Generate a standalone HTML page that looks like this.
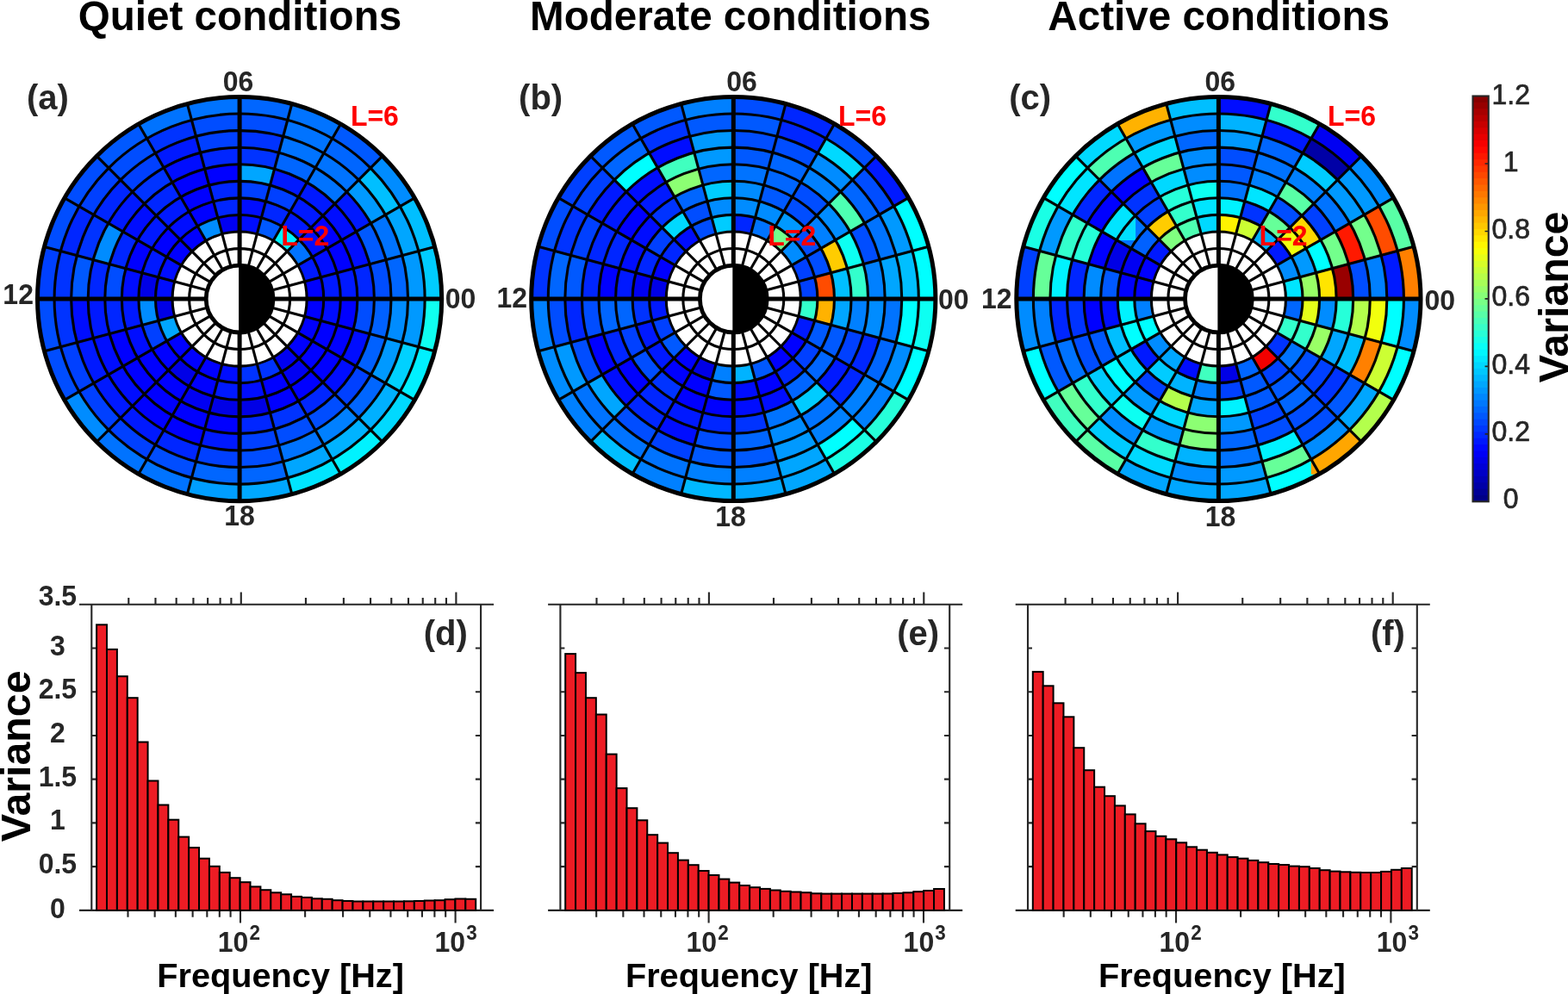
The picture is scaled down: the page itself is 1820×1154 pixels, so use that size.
<!DOCTYPE html>
<html lang="en">
<head>
<meta charset="utf-8">
<title>Variance of wave power: quiet, moderate and active conditions</title>
<style>html,body{margin:0;padding:0;background:#fff}body{width:1820px;height:1154px;overflow:hidden}svg{display:block;font-family:'Liberation Sans',Arial,Helvetica,sans-serif}</style>
</head>
<body>
<svg width="1820" height="1154" viewBox="0 0 1820 1154">
<rect width="1820" height="1154" fill="#fff"/>
<text x="278.5" y="34.8" font-size="47.6" font-weight="bold" fill="#000" text-anchor="middle">Quiet conditions</text>
<text x="847.75" y="34.8" font-size="47.6" font-weight="bold" fill="#000" text-anchor="middle">Moderate conditions</text>
<text x="1414.65" y="34.8" font-size="47.6" font-weight="bold" fill="#000" text-anchor="middle">Active conditions</text>
<!-- polar plot (a) -->
<g transform="translate(278.1 347.1)">
<circle r="234.6" fill="#fff"/>
<path d="M97.61 0A97.61 97.61 0 0 0 94.28 -25.26L75.38 -20.2A78.04 78.04 0 0 1 78.04 0Z" fill="#0000ff" stroke="#0000ff" stroke-width="0.6"/>
<path d="M94.28 -25.26A97.61 97.61 0 0 0 84.53 -48.8L67.58 -39.02A78.04 78.04 0 0 1 75.38 -20.2Z" fill="#0019ff" stroke="#0019ff" stroke-width="0.6"/>
<path d="M84.53 -48.8A97.61 97.61 0 0 0 69.02 -69.02L55.18 -55.18A78.04 78.04 0 0 1 67.58 -39.02Z" fill="#0073ff" stroke="#0073ff" stroke-width="0.6"/>
<path d="M69.02 -69.02A97.61 97.61 0 0 0 48.81 -84.53L39.02 -67.58A78.04 78.04 0 0 1 55.18 -55.18Z" fill="#00f2ff" stroke="#00f2ff" stroke-width="0.6"/>
<path d="M48.81 -84.53A97.61 97.61 0 0 0 25.26 -94.28L20.2 -75.38A78.04 78.04 0 0 1 39.02 -67.58Z" fill="#0059ff" stroke="#0059ff" stroke-width="0.6"/>
<path d="M25.26 -94.28A97.61 97.61 0 0 0 0 -97.61L0 -78.04A78.04 78.04 0 0 1 20.2 -75.38Z" fill="#000dff" stroke="#000dff" stroke-width="0.6"/>
<path d="M0 -97.61A97.61 97.61 0 0 0 -25.26 -94.28L-20.2 -75.38A78.04 78.04 0 0 1 0 -78.04Z" fill="#0000f2" stroke="#0000f2" stroke-width="0.6"/>
<path d="M-25.26 -94.28A97.61 97.61 0 0 0 -48.8 -84.53L-39.02 -67.58A78.04 78.04 0 0 1 -20.2 -75.38Z" fill="#008cff" stroke="#008cff" stroke-width="0.6"/>
<path d="M-48.8 -84.53A97.61 97.61 0 0 0 -69.02 -69.02L-55.18 -55.18A78.04 78.04 0 0 1 -39.02 -67.58Z" fill="#0000ff" stroke="#0000ff" stroke-width="0.6"/>
<path d="M-69.02 -69.02A97.61 97.61 0 0 0 -84.53 -48.8L-67.58 -39.02A78.04 78.04 0 0 1 -55.18 -55.18Z" fill="#0000ff" stroke="#0000ff" stroke-width="0.6"/>
<path d="M-84.53 -48.8A97.61 97.61 0 0 0 -94.28 -25.26L-75.38 -20.2A78.04 78.04 0 0 1 -67.58 -39.02Z" fill="#000dff" stroke="#000dff" stroke-width="0.6"/>
<path d="M-94.28 -25.26A97.61 97.61 0 0 0 -97.61 0L-78.04 0A78.04 78.04 0 0 1 -75.38 -20.2Z" fill="#000dff" stroke="#000dff" stroke-width="0.6"/>
<path d="M-97.61 0A97.61 97.61 0 0 0 -94.28 25.26L-75.38 20.2A78.04 78.04 0 0 1 -78.04 0Z" fill="#0000e6" stroke="#0000e6" stroke-width="0.6"/>
<path d="M-94.28 25.26A97.61 97.61 0 0 0 -84.53 48.81L-67.58 39.02A78.04 78.04 0 0 1 -75.38 20.2Z" fill="#00a6ff" stroke="#00a6ff" stroke-width="0.6"/>
<path d="M-84.53 48.81A97.61 97.61 0 0 0 -69.02 69.02L-55.18 55.18A78.04 78.04 0 0 1 -67.58 39.02Z" fill="#0000ff" stroke="#0000ff" stroke-width="0.6"/>
<path d="M-69.02 69.02A97.61 97.61 0 0 0 -48.81 84.53L-39.02 67.58A78.04 78.04 0 0 1 -55.18 55.18Z" fill="#0000ff" stroke="#0000ff" stroke-width="0.6"/>
<path d="M-48.81 84.53A97.61 97.61 0 0 0 -25.26 94.28L-20.2 75.38A78.04 78.04 0 0 1 -39.02 67.58Z" fill="#0000ff" stroke="#0000ff" stroke-width="0.6"/>
<path d="M-25.26 94.28A97.61 97.61 0 0 0 0 97.61L0 78.04A78.04 78.04 0 0 1 -20.2 75.38Z" fill="#000dff" stroke="#000dff" stroke-width="0.6"/>
<path d="M0 97.61A97.61 97.61 0 0 0 25.26 94.28L20.2 75.38A78.04 78.04 0 0 1 0 78.04Z" fill="#0033ff" stroke="#0033ff" stroke-width="0.6"/>
<path d="M25.26 94.28A97.61 97.61 0 0 0 48.81 84.53L39.02 67.58A78.04 78.04 0 0 1 20.2 75.38Z" fill="#0033ff" stroke="#0033ff" stroke-width="0.6"/>
<path d="M48.81 84.53A97.61 97.61 0 0 0 69.02 69.02L55.18 55.18A78.04 78.04 0 0 1 39.02 67.58Z" fill="#0000f2" stroke="#0000f2" stroke-width="0.6"/>
<path d="M69.02 69.02A97.61 97.61 0 0 0 84.53 48.81L67.58 39.02A78.04 78.04 0 0 1 55.18 55.18Z" fill="#0000ff" stroke="#0000ff" stroke-width="0.6"/>
<path d="M84.53 48.81A97.61 97.61 0 0 0 94.28 25.26L75.38 20.2A78.04 78.04 0 0 1 67.58 39.02Z" fill="#0000ff" stroke="#0000ff" stroke-width="0.6"/>
<path d="M94.28 25.26A97.61 97.61 0 0 0 97.61 0L78.04 0A78.04 78.04 0 0 1 75.38 20.2Z" fill="#0000ff" stroke="#0000ff" stroke-width="0.6"/>
<path d="M117.18 0A117.18 117.18 0 0 0 113.19 -30.33L94.28 -25.26A97.61 97.61 0 0 1 97.61 0Z" fill="#0019ff" stroke="#0019ff" stroke-width="0.6"/>
<path d="M113.19 -30.33A117.18 117.18 0 0 0 101.48 -58.59L84.53 -48.8A97.61 97.61 0 0 1 94.28 -25.26Z" fill="#000dff" stroke="#000dff" stroke-width="0.6"/>
<path d="M101.48 -58.59A117.18 117.18 0 0 0 82.86 -82.86L69.02 -69.02A97.61 97.61 0 0 1 84.53 -48.8Z" fill="#000dff" stroke="#000dff" stroke-width="0.6"/>
<path d="M82.86 -82.86A117.18 117.18 0 0 0 58.59 -101.48L48.81 -84.53A97.61 97.61 0 0 1 69.02 -69.02Z" fill="#0019ff" stroke="#0019ff" stroke-width="0.6"/>
<path d="M58.59 -101.48A117.18 117.18 0 0 0 30.33 -113.19L25.26 -94.28A97.61 97.61 0 0 1 48.81 -84.53Z" fill="#0026ff" stroke="#0026ff" stroke-width="0.6"/>
<path d="M30.33 -113.19A117.18 117.18 0 0 0 0 -117.18L0 -97.61A97.61 97.61 0 0 1 25.26 -94.28Z" fill="#000dff" stroke="#000dff" stroke-width="0.6"/>
<path d="M0 -117.18A117.18 117.18 0 0 0 -30.33 -113.19L-25.26 -94.28A97.61 97.61 0 0 1 0 -97.61Z" fill="#0026ff" stroke="#0026ff" stroke-width="0.6"/>
<path d="M-30.33 -113.19A117.18 117.18 0 0 0 -58.59 -101.48L-48.8 -84.53A97.61 97.61 0 0 1 -25.26 -94.28Z" fill="#0000ff" stroke="#0000ff" stroke-width="0.6"/>
<path d="M-58.59 -101.48A117.18 117.18 0 0 0 -82.86 -82.86L-69.02 -69.02A97.61 97.61 0 0 1 -48.8 -84.53Z" fill="#000dff" stroke="#000dff" stroke-width="0.6"/>
<path d="M-82.86 -82.86A117.18 117.18 0 0 0 -101.48 -58.59L-84.53 -48.8A97.61 97.61 0 0 1 -69.02 -69.02Z" fill="#0000ff" stroke="#0000ff" stroke-width="0.6"/>
<path d="M-101.48 -58.59A117.18 117.18 0 0 0 -113.19 -30.33L-94.28 -25.26A97.61 97.61 0 0 1 -84.53 -48.8Z" fill="#0019ff" stroke="#0019ff" stroke-width="0.6"/>
<path d="M-113.19 -30.33A117.18 117.18 0 0 0 -117.18 0L-97.61 0A97.61 97.61 0 0 1 -94.28 -25.26Z" fill="#0000e6" stroke="#0000e6" stroke-width="0.6"/>
<path d="M-117.18 0A117.18 117.18 0 0 0 -113.19 30.33L-94.28 25.26A97.61 97.61 0 0 1 -97.61 0Z" fill="#008cff" stroke="#008cff" stroke-width="0.6"/>
<path d="M-113.19 30.33A117.18 117.18 0 0 0 -101.48 58.59L-84.53 48.81A97.61 97.61 0 0 1 -94.28 25.26Z" fill="#0040ff" stroke="#0040ff" stroke-width="0.6"/>
<path d="M-101.48 58.59A117.18 117.18 0 0 0 -82.86 82.86L-69.02 69.02A97.61 97.61 0 0 1 -84.53 48.81Z" fill="#0000ff" stroke="#0000ff" stroke-width="0.6"/>
<path d="M-82.86 82.86A117.18 117.18 0 0 0 -58.59 101.48L-48.81 84.53A97.61 97.61 0 0 1 -69.02 69.02Z" fill="#0000e6" stroke="#0000e6" stroke-width="0.6"/>
<path d="M-58.59 101.48A117.18 117.18 0 0 0 -30.33 113.19L-25.26 94.28A97.61 97.61 0 0 1 -48.81 84.53Z" fill="#0000ff" stroke="#0000ff" stroke-width="0.6"/>
<path d="M-30.33 113.19A117.18 117.18 0 0 0 0 117.18L0 97.61A97.61 97.61 0 0 1 -25.26 94.28Z" fill="#0019ff" stroke="#0019ff" stroke-width="0.6"/>
<path d="M0 117.18A117.18 117.18 0 0 0 30.33 113.19L25.26 94.28A97.61 97.61 0 0 1 0 97.61Z" fill="#000dff" stroke="#000dff" stroke-width="0.6"/>
<path d="M30.33 113.19A117.18 117.18 0 0 0 58.59 101.48L48.81 84.53A97.61 97.61 0 0 1 25.26 94.28Z" fill="#0000ff" stroke="#0000ff" stroke-width="0.6"/>
<path d="M58.59 101.48A117.18 117.18 0 0 0 82.86 82.86L69.02 69.02A97.61 97.61 0 0 1 48.81 84.53Z" fill="#0000f2" stroke="#0000f2" stroke-width="0.6"/>
<path d="M82.86 82.86A117.18 117.18 0 0 0 101.48 58.59L84.53 48.81A97.61 97.61 0 0 1 69.02 69.02Z" fill="#0000ff" stroke="#0000ff" stroke-width="0.6"/>
<path d="M101.48 58.59A117.18 117.18 0 0 0 113.19 30.33L94.28 25.26A97.61 97.61 0 0 1 84.53 48.81Z" fill="#0000ff" stroke="#0000ff" stroke-width="0.6"/>
<path d="M113.19 30.33A117.18 117.18 0 0 0 117.18 0L97.61 0A97.61 97.61 0 0 1 94.28 25.26Z" fill="#000dff" stroke="#000dff" stroke-width="0.6"/>
<path d="M136.75 0A136.75 136.75 0 0 0 132.09 -35.39L113.19 -30.33A117.18 117.18 0 0 1 117.18 0Z" fill="#0019ff" stroke="#0019ff" stroke-width="0.6"/>
<path d="M132.09 -35.39A136.75 136.75 0 0 0 118.43 -68.37L101.48 -58.59A117.18 117.18 0 0 1 113.19 -30.33Z" fill="#0000ff" stroke="#0000ff" stroke-width="0.6"/>
<path d="M118.43 -68.37A136.75 136.75 0 0 0 96.7 -96.7L82.86 -82.86A117.18 117.18 0 0 1 101.48 -58.59Z" fill="#0000ff" stroke="#0000ff" stroke-width="0.6"/>
<path d="M96.7 -96.7A136.75 136.75 0 0 0 68.38 -118.43L58.59 -101.48A117.18 117.18 0 0 1 82.86 -82.86Z" fill="#0019ff" stroke="#0019ff" stroke-width="0.6"/>
<path d="M68.38 -118.43A136.75 136.75 0 0 0 35.39 -132.09L30.33 -113.19A117.18 117.18 0 0 1 58.59 -101.48Z" fill="#0040ff" stroke="#0040ff" stroke-width="0.6"/>
<path d="M35.39 -132.09A136.75 136.75 0 0 0 0 -136.75L0 -117.18A117.18 117.18 0 0 1 30.33 -113.19Z" fill="#0040ff" stroke="#0040ff" stroke-width="0.6"/>
<path d="M0 -136.75A136.75 136.75 0 0 0 -35.39 -132.09L-30.33 -113.19A117.18 117.18 0 0 1 0 -117.18Z" fill="#0026ff" stroke="#0026ff" stroke-width="0.6"/>
<path d="M-35.39 -132.09A136.75 136.75 0 0 0 -68.37 -118.43L-58.59 -101.48A117.18 117.18 0 0 1 -30.33 -113.19Z" fill="#0000ff" stroke="#0000ff" stroke-width="0.6"/>
<path d="M-68.37 -118.43A136.75 136.75 0 0 0 -96.7 -96.7L-82.86 -82.86A117.18 117.18 0 0 1 -58.59 -101.48Z" fill="#0019ff" stroke="#0019ff" stroke-width="0.6"/>
<path d="M-96.7 -96.7A136.75 136.75 0 0 0 -118.43 -68.37L-101.48 -58.59A117.18 117.18 0 0 1 -82.86 -82.86Z" fill="#0019ff" stroke="#0019ff" stroke-width="0.6"/>
<path d="M-118.43 -68.37A136.75 136.75 0 0 0 -132.09 -35.39L-113.19 -30.33A117.18 117.18 0 0 1 -101.48 -58.59Z" fill="#0000ff" stroke="#0000ff" stroke-width="0.6"/>
<path d="M-132.09 -35.39A136.75 136.75 0 0 0 -136.75 0L-117.18 0A117.18 117.18 0 0 1 -113.19 -30.33Z" fill="#000dff" stroke="#000dff" stroke-width="0.6"/>
<path d="M-136.75 0A136.75 136.75 0 0 0 -132.09 35.39L-113.19 30.33A117.18 117.18 0 0 1 -117.18 0Z" fill="#0019ff" stroke="#0019ff" stroke-width="0.6"/>
<path d="M-132.09 35.39A136.75 136.75 0 0 0 -118.43 68.38L-101.48 58.59A117.18 117.18 0 0 1 -113.19 30.33Z" fill="#000dff" stroke="#000dff" stroke-width="0.6"/>
<path d="M-118.43 68.38A136.75 136.75 0 0 0 -96.7 96.7L-82.86 82.86A117.18 117.18 0 0 1 -101.48 58.59Z" fill="#0000ff" stroke="#0000ff" stroke-width="0.6"/>
<path d="M-96.7 96.7A136.75 136.75 0 0 0 -68.38 118.43L-58.59 101.48A117.18 117.18 0 0 1 -82.86 82.86Z" fill="#0000ff" stroke="#0000ff" stroke-width="0.6"/>
<path d="M-68.38 118.43A136.75 136.75 0 0 0 -35.39 132.09L-30.33 113.19A117.18 117.18 0 0 1 -58.59 101.48Z" fill="#0000f2" stroke="#0000f2" stroke-width="0.6"/>
<path d="M-35.39 132.09A136.75 136.75 0 0 0 0 136.75L0 117.18A117.18 117.18 0 0 1 -30.33 113.19Z" fill="#0000e6" stroke="#0000e6" stroke-width="0.6"/>
<path d="M0 136.75A136.75 136.75 0 0 0 35.39 132.09L30.33 113.19A117.18 117.18 0 0 1 0 117.18Z" fill="#0000e6" stroke="#0000e6" stroke-width="0.6"/>
<path d="M35.39 132.09A136.75 136.75 0 0 0 68.38 118.43L58.59 101.48A117.18 117.18 0 0 1 30.33 113.19Z" fill="#0000ff" stroke="#0000ff" stroke-width="0.6"/>
<path d="M68.38 118.43A136.75 136.75 0 0 0 96.7 96.7L82.86 82.86A117.18 117.18 0 0 1 58.59 101.48Z" fill="#0000ff" stroke="#0000ff" stroke-width="0.6"/>
<path d="M96.7 96.7A136.75 136.75 0 0 0 118.43 68.38L101.48 58.59A117.18 117.18 0 0 1 82.86 82.86Z" fill="#0000ff" stroke="#0000ff" stroke-width="0.6"/>
<path d="M118.43 68.38A136.75 136.75 0 0 0 132.09 35.39L113.19 30.33A117.18 117.18 0 0 1 101.48 58.59Z" fill="#0000ff" stroke="#0000ff" stroke-width="0.6"/>
<path d="M132.09 35.39A136.75 136.75 0 0 0 136.75 0L117.18 0A117.18 117.18 0 0 1 113.19 30.33Z" fill="#0000ff" stroke="#0000ff" stroke-width="0.6"/>
<path d="M156.32 0A156.32 156.32 0 0 0 150.99 -40.46L132.09 -35.39A136.75 136.75 0 0 1 136.75 0Z" fill="#0026ff" stroke="#0026ff" stroke-width="0.6"/>
<path d="M150.99 -40.46A156.32 156.32 0 0 0 135.38 -78.16L118.43 -68.37A136.75 136.75 0 0 1 132.09 -35.39Z" fill="#000dff" stroke="#000dff" stroke-width="0.6"/>
<path d="M135.38 -78.16A156.32 156.32 0 0 0 110.53 -110.53L96.7 -96.7A136.75 136.75 0 0 1 118.43 -68.37Z" fill="#000dff" stroke="#000dff" stroke-width="0.6"/>
<path d="M110.53 -110.53A156.32 156.32 0 0 0 78.16 -135.38L68.38 -118.43A136.75 136.75 0 0 1 96.7 -96.7Z" fill="#0019ff" stroke="#0019ff" stroke-width="0.6"/>
<path d="M78.16 -135.38A156.32 156.32 0 0 0 40.46 -150.99L35.39 -132.09A136.75 136.75 0 0 1 68.38 -118.43Z" fill="#0019ff" stroke="#0019ff" stroke-width="0.6"/>
<path d="M40.46 -150.99A156.32 156.32 0 0 0 0 -156.32L0 -136.75A136.75 136.75 0 0 1 35.39 -132.09Z" fill="#00a6ff" stroke="#00a6ff" stroke-width="0.6"/>
<path d="M0 -156.32A156.32 156.32 0 0 0 -40.46 -150.99L-35.39 -132.09A136.75 136.75 0 0 1 0 -136.75Z" fill="#0000ff" stroke="#0000ff" stroke-width="0.6"/>
<path d="M-40.46 -150.99A156.32 156.32 0 0 0 -78.16 -135.38L-68.37 -118.43A136.75 136.75 0 0 1 -35.39 -132.09Z" fill="#0000ff" stroke="#0000ff" stroke-width="0.6"/>
<path d="M-78.16 -135.38A156.32 156.32 0 0 0 -110.53 -110.53L-96.7 -96.7A136.75 136.75 0 0 1 -68.37 -118.43Z" fill="#0026ff" stroke="#0026ff" stroke-width="0.6"/>
<path d="M-110.53 -110.53A156.32 156.32 0 0 0 -135.38 -78.16L-118.43 -68.37A136.75 136.75 0 0 1 -96.7 -96.7Z" fill="#000dff" stroke="#000dff" stroke-width="0.6"/>
<path d="M-135.38 -78.16A156.32 156.32 0 0 0 -150.99 -40.46L-132.09 -35.39A136.75 136.75 0 0 1 -118.43 -68.37Z" fill="#0026ff" stroke="#0026ff" stroke-width="0.6"/>
<path d="M-150.99 -40.46A156.32 156.32 0 0 0 -156.32 0L-136.75 0A136.75 136.75 0 0 1 -132.09 -35.39Z" fill="#004dff" stroke="#004dff" stroke-width="0.6"/>
<path d="M-156.32 0A156.32 156.32 0 0 0 -150.99 40.46L-132.09 35.39A136.75 136.75 0 0 1 -136.75 0Z" fill="#0026ff" stroke="#0026ff" stroke-width="0.6"/>
<path d="M-150.99 40.46A156.32 156.32 0 0 0 -135.38 78.16L-118.43 68.38A136.75 136.75 0 0 1 -132.09 35.39Z" fill="#0000ff" stroke="#0000ff" stroke-width="0.6"/>
<path d="M-135.38 78.16A156.32 156.32 0 0 0 -110.53 110.53L-96.7 96.7A136.75 136.75 0 0 1 -118.43 68.38Z" fill="#0000ff" stroke="#0000ff" stroke-width="0.6"/>
<path d="M-110.53 110.53A156.32 156.32 0 0 0 -78.16 135.38L-68.38 118.43A136.75 136.75 0 0 1 -96.7 96.7Z" fill="#0000ff" stroke="#0000ff" stroke-width="0.6"/>
<path d="M-78.16 135.38A156.32 156.32 0 0 0 -40.46 150.99L-35.39 132.09A136.75 136.75 0 0 1 -68.38 118.43Z" fill="#0000ff" stroke="#0000ff" stroke-width="0.6"/>
<path d="M-40.46 150.99A156.32 156.32 0 0 0 0 156.32L0 136.75A136.75 136.75 0 0 1 -35.39 132.09Z" fill="#0000ff" stroke="#0000ff" stroke-width="0.6"/>
<path d="M0 156.32A156.32 156.32 0 0 0 40.46 150.99L35.39 132.09A136.75 136.75 0 0 1 0 136.75Z" fill="#0026ff" stroke="#0026ff" stroke-width="0.6"/>
<path d="M40.46 150.99A156.32 156.32 0 0 0 78.16 135.38L68.38 118.43A136.75 136.75 0 0 1 35.39 132.09Z" fill="#0033ff" stroke="#0033ff" stroke-width="0.6"/>
<path d="M78.16 135.38A156.32 156.32 0 0 0 110.53 110.53L96.7 96.7A136.75 136.75 0 0 1 68.38 118.43Z" fill="#0026ff" stroke="#0026ff" stroke-width="0.6"/>
<path d="M110.53 110.53A156.32 156.32 0 0 0 135.38 78.16L118.43 68.38A136.75 136.75 0 0 1 96.7 96.7Z" fill="#000dff" stroke="#000dff" stroke-width="0.6"/>
<path d="M135.38 78.16A156.32 156.32 0 0 0 150.99 40.46L132.09 35.39A136.75 136.75 0 0 1 118.43 68.38Z" fill="#000dff" stroke="#000dff" stroke-width="0.6"/>
<path d="M150.99 40.46A156.32 156.32 0 0 0 156.32 0L136.75 0A136.75 136.75 0 0 1 132.09 35.39Z" fill="#004dff" stroke="#004dff" stroke-width="0.6"/>
<path d="M175.89 0A175.89 175.89 0 0 0 169.9 -45.52L150.99 -40.46A156.32 156.32 0 0 1 156.32 0Z" fill="#004dff" stroke="#004dff" stroke-width="0.6"/>
<path d="M169.9 -45.52A175.89 175.89 0 0 0 152.33 -87.94L135.38 -78.16A156.32 156.32 0 0 1 150.99 -40.46Z" fill="#0059ff" stroke="#0059ff" stroke-width="0.6"/>
<path d="M152.33 -87.94A175.89 175.89 0 0 0 124.37 -124.37L110.53 -110.53A156.32 156.32 0 0 1 135.38 -78.16Z" fill="#0019ff" stroke="#0019ff" stroke-width="0.6"/>
<path d="M124.37 -124.37A175.89 175.89 0 0 0 87.95 -152.33L78.16 -135.38A156.32 156.32 0 0 1 110.53 -110.53Z" fill="#0073ff" stroke="#0073ff" stroke-width="0.6"/>
<path d="M87.95 -152.33A175.89 175.89 0 0 0 45.52 -169.9L40.46 -150.99A156.32 156.32 0 0 1 78.16 -135.38Z" fill="#0066ff" stroke="#0066ff" stroke-width="0.6"/>
<path d="M45.52 -169.9A175.89 175.89 0 0 0 0 -175.89L0 -156.32A156.32 156.32 0 0 1 40.46 -150.99Z" fill="#0033ff" stroke="#0033ff" stroke-width="0.6"/>
<path d="M0 -175.89A175.89 175.89 0 0 0 -45.52 -169.9L-40.46 -150.99A156.32 156.32 0 0 1 0 -156.32Z" fill="#0026ff" stroke="#0026ff" stroke-width="0.6"/>
<path d="M-45.52 -169.9A175.89 175.89 0 0 0 -87.94 -152.33L-78.16 -135.38A156.32 156.32 0 0 1 -40.46 -150.99Z" fill="#000dff" stroke="#000dff" stroke-width="0.6"/>
<path d="M-87.94 -152.33A175.89 175.89 0 0 0 -124.37 -124.37L-110.53 -110.53A156.32 156.32 0 0 1 -78.16 -135.38Z" fill="#0033ff" stroke="#0033ff" stroke-width="0.6"/>
<path d="M-124.37 -124.37A175.89 175.89 0 0 0 -152.33 -87.94L-135.38 -78.16A156.32 156.32 0 0 1 -110.53 -110.53Z" fill="#0019ff" stroke="#0019ff" stroke-width="0.6"/>
<path d="M-152.33 -87.94A175.89 175.89 0 0 0 -169.9 -45.52L-150.99 -40.46A156.32 156.32 0 0 1 -135.38 -78.16Z" fill="#008cff" stroke="#008cff" stroke-width="0.6"/>
<path d="M-169.9 -45.52A175.89 175.89 0 0 0 -175.89 0L-156.32 0A156.32 156.32 0 0 1 -150.99 -40.46Z" fill="#0026ff" stroke="#0026ff" stroke-width="0.6"/>
<path d="M-175.89 0A175.89 175.89 0 0 0 -169.9 45.52L-150.99 40.46A156.32 156.32 0 0 1 -156.32 0Z" fill="#0019ff" stroke="#0019ff" stroke-width="0.6"/>
<path d="M-169.9 45.52A175.89 175.89 0 0 0 -152.33 87.95L-135.38 78.16A156.32 156.32 0 0 1 -150.99 40.46Z" fill="#000dff" stroke="#000dff" stroke-width="0.6"/>
<path d="M-152.33 87.95A175.89 175.89 0 0 0 -124.37 124.37L-110.53 110.53A156.32 156.32 0 0 1 -135.38 78.16Z" fill="#000dff" stroke="#000dff" stroke-width="0.6"/>
<path d="M-124.37 124.37A175.89 175.89 0 0 0 -87.95 152.33L-78.16 135.38A156.32 156.32 0 0 1 -110.53 110.53Z" fill="#0000ff" stroke="#0000ff" stroke-width="0.6"/>
<path d="M-87.95 152.33A175.89 175.89 0 0 0 -45.52 169.9L-40.46 150.99A156.32 156.32 0 0 1 -78.16 135.38Z" fill="#0000ff" stroke="#0000ff" stroke-width="0.6"/>
<path d="M-45.52 169.9A175.89 175.89 0 0 0 0 175.89L0 156.32A156.32 156.32 0 0 1 -40.46 150.99Z" fill="#0019ff" stroke="#0019ff" stroke-width="0.6"/>
<path d="M0 175.89A175.89 175.89 0 0 0 45.52 169.9L40.46 150.99A156.32 156.32 0 0 1 0 156.32Z" fill="#0040ff" stroke="#0040ff" stroke-width="0.6"/>
<path d="M45.52 169.9A175.89 175.89 0 0 0 87.95 152.33L78.16 135.38A156.32 156.32 0 0 1 40.46 150.99Z" fill="#004dff" stroke="#004dff" stroke-width="0.6"/>
<path d="M87.95 152.33A175.89 175.89 0 0 0 124.37 124.37L110.53 110.53A156.32 156.32 0 0 1 78.16 135.38Z" fill="#004dff" stroke="#004dff" stroke-width="0.6"/>
<path d="M124.37 124.37A175.89 175.89 0 0 0 152.33 87.95L135.38 78.16A156.32 156.32 0 0 1 110.53 110.53Z" fill="#0040ff" stroke="#0040ff" stroke-width="0.6"/>
<path d="M152.33 87.95A175.89 175.89 0 0 0 169.9 45.52L150.99 40.46A156.32 156.32 0 0 1 135.38 78.16Z" fill="#0061ff" stroke="#0061ff" stroke-width="0.6"/>
<path d="M169.9 45.52A175.89 175.89 0 0 0 175.89 0L156.32 0A156.32 156.32 0 0 1 150.99 40.46Z" fill="#0061ff" stroke="#0061ff" stroke-width="0.6"/>
<path d="M195.46 0A195.46 195.46 0 0 0 188.8 -50.59L169.9 -45.52A175.89 175.89 0 0 1 175.89 0Z" fill="#0066ff" stroke="#0066ff" stroke-width="0.6"/>
<path d="M188.8 -50.59A195.46 195.46 0 0 0 169.27 -97.73L152.33 -87.94A175.89 175.89 0 0 1 169.9 -45.52Z" fill="#0073ff" stroke="#0073ff" stroke-width="0.6"/>
<path d="M169.27 -97.73A195.46 195.46 0 0 0 138.21 -138.21L124.37 -124.37A175.89 175.89 0 0 1 152.33 -87.94Z" fill="#0099ff" stroke="#0099ff" stroke-width="0.6"/>
<path d="M138.21 -138.21A195.46 195.46 0 0 0 97.73 -169.27L87.95 -152.33A175.89 175.89 0 0 1 124.37 -124.37Z" fill="#0073ff" stroke="#0073ff" stroke-width="0.6"/>
<path d="M97.73 -169.27A195.46 195.46 0 0 0 50.59 -188.8L45.52 -169.9A175.89 175.89 0 0 1 87.95 -152.33Z" fill="#0073ff" stroke="#0073ff" stroke-width="0.6"/>
<path d="M50.59 -188.8A195.46 195.46 0 0 0 0 -195.46L0 -175.89A175.89 175.89 0 0 1 45.52 -169.9Z" fill="#0033ff" stroke="#0033ff" stroke-width="0.6"/>
<path d="M0 -195.46A195.46 195.46 0 0 0 -50.59 -188.8L-45.52 -169.9A175.89 175.89 0 0 1 0 -175.89Z" fill="#0040ff" stroke="#0040ff" stroke-width="0.6"/>
<path d="M-50.59 -188.8A195.46 195.46 0 0 0 -97.73 -169.27L-87.94 -152.33A175.89 175.89 0 0 1 -45.52 -169.9Z" fill="#0019ff" stroke="#0019ff" stroke-width="0.6"/>
<path d="M-97.73 -169.27A195.46 195.46 0 0 0 -138.21 -138.21L-124.37 -124.37A175.89 175.89 0 0 1 -87.94 -152.33Z" fill="#0040ff" stroke="#0040ff" stroke-width="0.6"/>
<path d="M-138.21 -138.21A195.46 195.46 0 0 0 -169.27 -97.73L-152.33 -87.94A175.89 175.89 0 0 1 -124.37 -124.37Z" fill="#0026ff" stroke="#0026ff" stroke-width="0.6"/>
<path d="M-169.27 -97.73A195.46 195.46 0 0 0 -188.8 -50.59L-169.9 -45.52A175.89 175.89 0 0 1 -152.33 -87.94Z" fill="#0033ff" stroke="#0033ff" stroke-width="0.6"/>
<path d="M-188.8 -50.59A195.46 195.46 0 0 0 -195.46 0L-175.89 0A175.89 175.89 0 0 1 -169.9 -45.52Z" fill="#0059ff" stroke="#0059ff" stroke-width="0.6"/>
<path d="M-195.46 0A195.46 195.46 0 0 0 -188.8 50.59L-169.9 45.52A175.89 175.89 0 0 1 -175.89 0Z" fill="#000dff" stroke="#000dff" stroke-width="0.6"/>
<path d="M-188.8 50.59A195.46 195.46 0 0 0 -169.27 97.73L-152.33 87.95A175.89 175.89 0 0 1 -169.9 45.52Z" fill="#0019ff" stroke="#0019ff" stroke-width="0.6"/>
<path d="M-169.27 97.73A195.46 195.46 0 0 0 -138.21 138.21L-124.37 124.37A175.89 175.89 0 0 1 -152.33 87.95Z" fill="#0019ff" stroke="#0019ff" stroke-width="0.6"/>
<path d="M-138.21 138.21A195.46 195.46 0 0 0 -97.73 169.27L-87.95 152.33A175.89 175.89 0 0 1 -124.37 124.37Z" fill="#0019ff" stroke="#0019ff" stroke-width="0.6"/>
<path d="M-97.73 169.27A195.46 195.46 0 0 0 -50.59 188.8L-45.52 169.9A175.89 175.89 0 0 1 -87.95 152.33Z" fill="#0026ff" stroke="#0026ff" stroke-width="0.6"/>
<path d="M-50.59 188.8A195.46 195.46 0 0 0 0 195.46L0 175.89A175.89 175.89 0 0 1 -45.52 169.9Z" fill="#0040ff" stroke="#0040ff" stroke-width="0.6"/>
<path d="M0 195.46A195.46 195.46 0 0 0 50.59 188.8L45.52 169.9A175.89 175.89 0 0 1 0 175.89Z" fill="#004dff" stroke="#004dff" stroke-width="0.6"/>
<path d="M50.59 188.8A195.46 195.46 0 0 0 97.73 169.27L87.95 152.33A175.89 175.89 0 0 1 45.52 169.9Z" fill="#0073ff" stroke="#0073ff" stroke-width="0.6"/>
<path d="M97.73 169.27A195.46 195.46 0 0 0 138.21 138.21L124.37 124.37A175.89 175.89 0 0 1 87.95 152.33Z" fill="#0080ff" stroke="#0080ff" stroke-width="0.6"/>
<path d="M138.21 138.21A195.46 195.46 0 0 0 169.27 97.73L152.33 87.95A175.89 175.89 0 0 1 124.37 124.37Z" fill="#0066ff" stroke="#0066ff" stroke-width="0.6"/>
<path d="M169.27 97.73A195.46 195.46 0 0 0 188.8 50.59L169.9 45.52A175.89 175.89 0 0 1 152.33 87.95Z" fill="#0099ff" stroke="#0099ff" stroke-width="0.6"/>
<path d="M188.8 50.59A195.46 195.46 0 0 0 195.46 0L175.89 0A175.89 175.89 0 0 1 169.9 45.52Z" fill="#008cff" stroke="#008cff" stroke-width="0.6"/>
<path d="M215.03 0A215.03 215.03 0 0 0 207.7 -55.65L188.8 -50.59A195.46 195.46 0 0 1 195.46 0Z" fill="#0099ff" stroke="#0099ff" stroke-width="0.6"/>
<path d="M207.7 -55.65A215.03 215.03 0 0 0 186.22 -107.51L169.27 -97.73A195.46 195.46 0 0 1 188.8 -50.59Z" fill="#00a6ff" stroke="#00a6ff" stroke-width="0.6"/>
<path d="M186.22 -107.51A215.03 215.03 0 0 0 152.05 -152.05L138.21 -138.21A195.46 195.46 0 0 1 169.27 -97.73Z" fill="#00bfff" stroke="#00bfff" stroke-width="0.6"/>
<path d="M152.05 -152.05A215.03 215.03 0 0 0 107.52 -186.22L97.73 -169.27A195.46 195.46 0 0 1 138.21 -138.21Z" fill="#0066ff" stroke="#0066ff" stroke-width="0.6"/>
<path d="M107.52 -186.22A215.03 215.03 0 0 0 55.65 -207.7L50.59 -188.8A195.46 195.46 0 0 1 97.73 -169.27Z" fill="#0073ff" stroke="#0073ff" stroke-width="0.6"/>
<path d="M55.65 -207.7A215.03 215.03 0 0 0 0 -215.03L0 -195.46A195.46 195.46 0 0 1 50.59 -188.8Z" fill="#004dff" stroke="#004dff" stroke-width="0.6"/>
<path d="M0 -215.03A215.03 215.03 0 0 0 -55.65 -207.7L-50.59 -188.8A195.46 195.46 0 0 1 0 -195.46Z" fill="#004dff" stroke="#004dff" stroke-width="0.6"/>
<path d="M-55.65 -207.7A215.03 215.03 0 0 0 -107.51 -186.22L-97.73 -169.27A195.46 195.46 0 0 1 -50.59 -188.8Z" fill="#0033ff" stroke="#0033ff" stroke-width="0.6"/>
<path d="M-107.51 -186.22A215.03 215.03 0 0 0 -152.05 -152.05L-138.21 -138.21A195.46 195.46 0 0 1 -97.73 -169.27Z" fill="#004dff" stroke="#004dff" stroke-width="0.6"/>
<path d="M-152.05 -152.05A215.03 215.03 0 0 0 -186.22 -107.51L-169.27 -97.73A195.46 195.46 0 0 1 -138.21 -138.21Z" fill="#0040ff" stroke="#0040ff" stroke-width="0.6"/>
<path d="M-186.22 -107.51A215.03 215.03 0 0 0 -207.7 -55.65L-188.8 -50.59A195.46 195.46 0 0 1 -169.27 -97.73Z" fill="#0026ff" stroke="#0026ff" stroke-width="0.6"/>
<path d="M-207.7 -55.65A215.03 215.03 0 0 0 -215.03 0L-195.46 0A195.46 195.46 0 0 1 -188.8 -50.59Z" fill="#0033ff" stroke="#0033ff" stroke-width="0.6"/>
<path d="M-215.03 0A215.03 215.03 0 0 0 -207.7 55.65L-188.8 50.59A195.46 195.46 0 0 1 -195.46 0Z" fill="#0033ff" stroke="#0033ff" stroke-width="0.6"/>
<path d="M-207.7 55.65A215.03 215.03 0 0 0 -186.22 107.52L-169.27 97.73A195.46 195.46 0 0 1 -188.8 50.59Z" fill="#0040ff" stroke="#0040ff" stroke-width="0.6"/>
<path d="M-186.22 107.52A215.03 215.03 0 0 0 -152.05 152.05L-138.21 138.21A195.46 195.46 0 0 1 -169.27 97.73Z" fill="#0040ff" stroke="#0040ff" stroke-width="0.6"/>
<path d="M-152.05 152.05A215.03 215.03 0 0 0 -107.52 186.22L-97.73 169.27A195.46 195.46 0 0 1 -138.21 138.21Z" fill="#0040ff" stroke="#0040ff" stroke-width="0.6"/>
<path d="M-107.52 186.22A215.03 215.03 0 0 0 -55.65 207.7L-50.59 188.8A195.46 195.46 0 0 1 -97.73 169.27Z" fill="#004dff" stroke="#004dff" stroke-width="0.6"/>
<path d="M-55.65 207.7A215.03 215.03 0 0 0 0 215.03L0 195.46A195.46 195.46 0 0 1 -50.59 188.8Z" fill="#0066ff" stroke="#0066ff" stroke-width="0.6"/>
<path d="M0 215.03A215.03 215.03 0 0 0 55.65 207.7L50.59 188.8A195.46 195.46 0 0 1 0 195.46Z" fill="#0066ff" stroke="#0066ff" stroke-width="0.6"/>
<path d="M55.65 207.7A215.03 215.03 0 0 0 107.52 186.22L97.73 169.27A195.46 195.46 0 0 1 50.59 188.8Z" fill="#00a6ff" stroke="#00a6ff" stroke-width="0.6"/>
<path d="M107.52 186.22A215.03 215.03 0 0 0 152.05 152.05L138.21 138.21A195.46 195.46 0 0 1 97.73 169.27Z" fill="#00b3ff" stroke="#00b3ff" stroke-width="0.6"/>
<path d="M152.05 152.05A215.03 215.03 0 0 0 186.22 107.52L169.27 97.73A195.46 195.46 0 0 1 138.21 138.21Z" fill="#00b0ff" stroke="#00b0ff" stroke-width="0.6"/>
<path d="M186.22 107.52A215.03 215.03 0 0 0 207.7 55.65L188.8 50.59A195.46 195.46 0 0 1 169.27 97.73Z" fill="#00d1ff" stroke="#00d1ff" stroke-width="0.6"/>
<path d="M207.7 55.65A215.03 215.03 0 0 0 215.03 0L195.46 0A195.46 195.46 0 0 1 188.8 50.59Z" fill="#0099ff" stroke="#0099ff" stroke-width="0.6"/>
<path d="M234.6 0A234.6 234.6 0 0 0 226.61 -60.72L207.7 -55.65A215.03 215.03 0 0 1 215.03 0Z" fill="#00ccff" stroke="#00ccff" stroke-width="0.6"/>
<path d="M226.61 -60.72A234.6 234.6 0 0 0 203.17 -117.3L186.22 -107.51A215.03 215.03 0 0 1 207.7 -55.65Z" fill="#00bfff" stroke="#00bfff" stroke-width="0.6"/>
<path d="M203.17 -117.3A234.6 234.6 0 0 0 165.89 -165.89L152.05 -152.05A215.03 215.03 0 0 1 186.22 -107.51Z" fill="#008cff" stroke="#008cff" stroke-width="0.6"/>
<path d="M165.89 -165.89A234.6 234.6 0 0 0 117.3 -203.17L107.52 -186.22A215.03 215.03 0 0 1 152.05 -152.05Z" fill="#0059ff" stroke="#0059ff" stroke-width="0.6"/>
<path d="M117.3 -203.17A234.6 234.6 0 0 0 60.72 -226.61L55.65 -207.7A215.03 215.03 0 0 1 107.52 -186.22Z" fill="#0073ff" stroke="#0073ff" stroke-width="0.6"/>
<path d="M60.72 -226.61A234.6 234.6 0 0 0 0 -234.6L0 -215.03A215.03 215.03 0 0 1 55.65 -207.7Z" fill="#0066ff" stroke="#0066ff" stroke-width="0.6"/>
<path d="M0 -234.6A234.6 234.6 0 0 0 -60.72 -226.61L-55.65 -207.7A215.03 215.03 0 0 1 0 -215.03Z" fill="#0073ff" stroke="#0073ff" stroke-width="0.6"/>
<path d="M-60.72 -226.61A234.6 234.6 0 0 0 -117.3 -203.17L-107.51 -186.22A215.03 215.03 0 0 1 -55.65 -207.7Z" fill="#0073ff" stroke="#0073ff" stroke-width="0.6"/>
<path d="M-117.3 -203.17A234.6 234.6 0 0 0 -165.89 -165.89L-152.05 -152.05A215.03 215.03 0 0 1 -107.51 -186.22Z" fill="#0059ff" stroke="#0059ff" stroke-width="0.6"/>
<path d="M-165.89 -165.89A234.6 234.6 0 0 0 -203.17 -117.3L-186.22 -107.51A215.03 215.03 0 0 1 -152.05 -152.05Z" fill="#004dff" stroke="#004dff" stroke-width="0.6"/>
<path d="M-203.17 -117.3A234.6 234.6 0 0 0 -226.61 -60.72L-207.7 -55.65A215.03 215.03 0 0 1 -186.22 -107.51Z" fill="#004dff" stroke="#004dff" stroke-width="0.6"/>
<path d="M-226.61 -60.72A234.6 234.6 0 0 0 -234.6 0L-215.03 0A215.03 215.03 0 0 1 -207.7 -55.65Z" fill="#0040ff" stroke="#0040ff" stroke-width="0.6"/>
<path d="M-234.6 0A234.6 234.6 0 0 0 -226.61 60.72L-207.7 55.65A215.03 215.03 0 0 1 -215.03 0Z" fill="#004dff" stroke="#004dff" stroke-width="0.6"/>
<path d="M-226.61 60.72A234.6 234.6 0 0 0 -203.17 117.3L-186.22 107.52A215.03 215.03 0 0 1 -207.7 55.65Z" fill="#004dff" stroke="#004dff" stroke-width="0.6"/>
<path d="M-203.17 117.3A234.6 234.6 0 0 0 -165.89 165.89L-152.05 152.05A215.03 215.03 0 0 1 -186.22 107.52Z" fill="#008cff" stroke="#008cff" stroke-width="0.6"/>
<path d="M-165.89 165.89A234.6 234.6 0 0 0 -117.3 203.17L-107.52 186.22A215.03 215.03 0 0 1 -152.05 152.05Z" fill="#0073ff" stroke="#0073ff" stroke-width="0.6"/>
<path d="M-117.3 203.17A234.6 234.6 0 0 0 -60.72 226.61L-55.65 207.7A215.03 215.03 0 0 1 -107.52 186.22Z" fill="#0073ff" stroke="#0073ff" stroke-width="0.6"/>
<path d="M-60.72 226.61A234.6 234.6 0 0 0 0 234.6L0 215.03A215.03 215.03 0 0 1 -55.65 207.7Z" fill="#009eff" stroke="#009eff" stroke-width="0.6"/>
<path d="M0 234.6A234.6 234.6 0 0 0 60.72 226.61L55.65 207.7A215.03 215.03 0 0 1 0 215.03Z" fill="#00a8ff" stroke="#00a8ff" stroke-width="0.6"/>
<path d="M60.72 226.61A234.6 234.6 0 0 0 117.3 203.17L107.52 186.22A215.03 215.03 0 0 1 55.65 207.7Z" fill="#00e5ff" stroke="#00e5ff" stroke-width="0.6"/>
<path d="M117.3 203.17A234.6 234.6 0 0 0 165.89 165.89L152.05 152.05A215.03 215.03 0 0 1 107.52 186.22Z" fill="#00f2ff" stroke="#00f2ff" stroke-width="0.6"/>
<path d="M165.89 165.89A234.6 234.6 0 0 0 203.17 117.3L186.22 107.52A215.03 215.03 0 0 1 152.05 152.05Z" fill="#00d9ff" stroke="#00d9ff" stroke-width="0.6"/>
<path d="M203.17 117.3A234.6 234.6 0 0 0 226.61 60.72L207.7 55.65A215.03 215.03 0 0 1 186.22 107.52Z" fill="#00f0ff" stroke="#00f0ff" stroke-width="0.6"/>
<path d="M226.61 60.72A234.6 234.6 0 0 0 234.6 0L215.03 0A215.03 215.03 0 0 1 207.7 55.65Z" fill="#0ffff0" stroke="#0ffff0" stroke-width="0.6"/>
<g fill="none" stroke="#000">
<circle r="58.47" stroke-width="3.1"/>
<circle r="78.04" stroke-width="3.1"/>
<circle r="97.61" stroke-width="3.1"/>
<circle r="117.18" stroke-width="3.1"/>
<circle r="136.75" stroke-width="3.1"/>
<circle r="156.32" stroke-width="3.1"/>
<circle r="175.89" stroke-width="3.1"/>
<circle r="195.46" stroke-width="3.1"/>
<circle r="215.03" stroke-width="3.1"/>
<path d="M37.57 -10.07L226.61 -60.72M33.69 -19.45L203.17 -117.3M27.51 -27.51L165.89 -165.89M19.45 -33.69L117.3 -203.17M10.07 -37.57L60.72 -226.61M-10.07 -37.57L-60.72 -226.61M-19.45 -33.69L-117.3 -203.17M-27.51 -27.51L-165.89 -165.89M-33.69 -19.45L-203.17 -117.3M-37.57 -10.07L-226.61 -60.72M-37.57 10.07L-226.61 60.72M-33.69 19.45L-203.17 117.3M-27.51 27.51L-165.89 165.89M-19.45 33.69L-117.3 203.17M-10.07 37.57L-60.72 226.61M10.07 37.57L60.72 226.61M19.45 33.69L117.3 203.17M27.51 27.51L165.89 165.89M33.69 19.45L203.17 117.3M37.57 10.07L226.61 60.72" stroke-width="3.1"/>
<path d="M-234.6 0H-38.9M38.9 0H234.6M0 -234.6V-38.9M0 38.9V234.6" stroke-width="5"/>
<circle r="234.6" stroke-width="5"/>
</g>
<circle r="38.9" fill="#fff" stroke="#000" stroke-width="4.8"/>
<path d="M-1 -38.9H0A38.9 38.9 0 0 1 0 38.9H-1Z" fill="#000"/>
</g>
<text transform="translate(276.5 106.1) scale(1 1.055)" font-size="32" font-weight="bold" fill="#262626" text-anchor="middle">06</text>
<text transform="translate(278.05 610.4) scale(1 1.055)" font-size="32" font-weight="bold" fill="#262626" text-anchor="middle">18</text>
<text transform="translate(534.45 357.6) scale(1 1.055)" font-size="32" font-weight="bold" fill="#262626" text-anchor="middle">00</text>
<text transform="translate(21.15 353) scale(1 1.055)" font-size="32" font-weight="bold" fill="#262626" text-anchor="middle">12</text>
<text x="55.4" y="126.7" font-size="40" font-weight="bold" fill="#262626" text-anchor="middle">(a)</text>
<text transform="translate(406.9 146) scale(1 1.02)" font-size="32" font-weight="bold" fill="#ff0000" text-anchor="start">L=6</text>
<text transform="translate(326.2 285.2) scale(1 1.02)" font-size="32" font-weight="bold" fill="#ff0000" text-anchor="start">L=2</text>
<!-- polar plot (b) -->
<g transform="translate(851.3 347)">
<circle r="234.6" fill="#fff"/>
<path d="M97.61 0A97.61 97.61 0 0 0 94.28 -25.26L75.38 -20.2A78.04 78.04 0 0 1 78.04 0Z" fill="#0040ff" stroke="#0040ff" stroke-width="0.6"/>
<path d="M94.28 -25.26A97.61 97.61 0 0 0 84.53 -48.8L67.58 -39.02A78.04 78.04 0 0 1 75.38 -20.2Z" fill="#0040ff" stroke="#0040ff" stroke-width="0.6"/>
<path d="M84.53 -48.8A97.61 97.61 0 0 0 69.02 -69.02L55.18 -55.18A78.04 78.04 0 0 1 67.58 -39.02Z" fill="#008cff" stroke="#008cff" stroke-width="0.6"/>
<path d="M69.02 -69.02A97.61 97.61 0 0 0 48.81 -84.53L39.02 -67.58A78.04 78.04 0 0 1 55.18 -55.18Z" fill="#73ff8c" stroke="#73ff8c" stroke-width="0.6"/>
<path d="M48.81 -84.53A97.61 97.61 0 0 0 25.26 -94.28L20.2 -75.38A78.04 78.04 0 0 1 39.02 -67.58Z" fill="#0073ff" stroke="#0073ff" stroke-width="0.6"/>
<path d="M25.26 -94.28A97.61 97.61 0 0 0 0 -97.61L0 -78.04A78.04 78.04 0 0 1 20.2 -75.38Z" fill="#0026ff" stroke="#0026ff" stroke-width="0.6"/>
<path d="M0 -97.61A97.61 97.61 0 0 0 -25.26 -94.28L-20.2 -75.38A78.04 78.04 0 0 1 0 -78.04Z" fill="#00ccff" stroke="#00ccff" stroke-width="0.6"/>
<path d="M-25.26 -94.28A97.61 97.61 0 0 0 -48.8 -84.53L-39.02 -67.58A78.04 78.04 0 0 1 -20.2 -75.38Z" fill="#004dff" stroke="#004dff" stroke-width="0.6"/>
<path d="M-48.8 -84.53A97.61 97.61 0 0 0 -69.02 -69.02L-55.18 -55.18A78.04 78.04 0 0 1 -39.02 -67.58Z" fill="#000dff" stroke="#000dff" stroke-width="0.6"/>
<path d="M-69.02 -69.02A97.61 97.61 0 0 0 -84.53 -48.8L-67.58 -39.02A78.04 78.04 0 0 1 -55.18 -55.18Z" fill="#0026ff" stroke="#0026ff" stroke-width="0.6"/>
<path d="M-84.53 -48.8A97.61 97.61 0 0 0 -94.28 -25.26L-75.38 -20.2A78.04 78.04 0 0 1 -67.58 -39.02Z" fill="#0000ff" stroke="#0000ff" stroke-width="0.6"/>
<path d="M-94.28 -25.26A97.61 97.61 0 0 0 -97.61 0L-78.04 0A78.04 78.04 0 0 1 -75.38 -20.2Z" fill="#0000e6" stroke="#0000e6" stroke-width="0.6"/>
<path d="M-97.61 0A97.61 97.61 0 0 0 -94.28 25.26L-75.38 20.2A78.04 78.04 0 0 1 -78.04 0Z" fill="#0019ff" stroke="#0019ff" stroke-width="0.6"/>
<path d="M-94.28 25.26A97.61 97.61 0 0 0 -84.53 48.81L-67.58 39.02A78.04 78.04 0 0 1 -75.38 20.2Z" fill="#0040ff" stroke="#0040ff" stroke-width="0.6"/>
<path d="M-84.53 48.81A97.61 97.61 0 0 0 -69.02 69.02L-55.18 55.18A78.04 78.04 0 0 1 -67.58 39.02Z" fill="#0059ff" stroke="#0059ff" stroke-width="0.6"/>
<path d="M-69.02 69.02A97.61 97.61 0 0 0 -48.81 84.53L-39.02 67.58A78.04 78.04 0 0 1 -55.18 55.18Z" fill="#0000ff" stroke="#0000ff" stroke-width="0.6"/>
<path d="M-48.81 84.53A97.61 97.61 0 0 0 -25.26 94.28L-20.2 75.38A78.04 78.04 0 0 1 -39.02 67.58Z" fill="#0000e6" stroke="#0000e6" stroke-width="0.6"/>
<path d="M-25.26 94.28A97.61 97.61 0 0 0 0 97.61L0 78.04A78.04 78.04 0 0 1 -20.2 75.38Z" fill="#0080ff" stroke="#0080ff" stroke-width="0.6"/>
<path d="M0 97.61A97.61 97.61 0 0 0 25.26 94.28L20.2 75.38A78.04 78.04 0 0 1 0 78.04Z" fill="#00b3ff" stroke="#00b3ff" stroke-width="0.6"/>
<path d="M25.26 94.28A97.61 97.61 0 0 0 48.81 84.53L39.02 67.58A78.04 78.04 0 0 1 20.2 75.38Z" fill="#0059ff" stroke="#0059ff" stroke-width="0.6"/>
<path d="M48.81 84.53A97.61 97.61 0 0 0 69.02 69.02L55.18 55.18A78.04 78.04 0 0 1 39.02 67.58Z" fill="#0000ff" stroke="#0000ff" stroke-width="0.6"/>
<path d="M69.02 69.02A97.61 97.61 0 0 0 84.53 48.81L67.58 39.02A78.04 78.04 0 0 1 55.18 55.18Z" fill="#0000ff" stroke="#0000ff" stroke-width="0.6"/>
<path d="M84.53 48.81A97.61 97.61 0 0 0 94.28 25.26L75.38 20.2A78.04 78.04 0 0 1 67.58 39.02Z" fill="#0019ff" stroke="#0019ff" stroke-width="0.6"/>
<path d="M94.28 25.26A97.61 97.61 0 0 0 97.61 0L78.04 0A78.04 78.04 0 0 1 75.38 20.2Z" fill="#33ffcc" stroke="#33ffcc" stroke-width="0.6"/>
<path d="M117.18 0A117.18 117.18 0 0 0 113.19 -30.33L94.28 -25.26A97.61 97.61 0 0 1 97.61 0Z" fill="#ff4c00" stroke="#ff4c00" stroke-width="0.6"/>
<path d="M113.19 -30.33A117.18 117.18 0 0 0 101.48 -58.59L84.53 -48.8A97.61 97.61 0 0 1 94.28 -25.26Z" fill="#004dff" stroke="#004dff" stroke-width="0.6"/>
<path d="M101.48 -58.59A117.18 117.18 0 0 0 82.86 -82.86L69.02 -69.02A97.61 97.61 0 0 1 84.53 -48.8Z" fill="#004dff" stroke="#004dff" stroke-width="0.6"/>
<path d="M82.86 -82.86A117.18 117.18 0 0 0 58.59 -101.48L48.81 -84.53A97.61 97.61 0 0 1 69.02 -69.02Z" fill="#0099ff" stroke="#0099ff" stroke-width="0.6"/>
<path d="M58.59 -101.48A117.18 117.18 0 0 0 30.33 -113.19L25.26 -94.28A97.61 97.61 0 0 1 48.81 -84.53Z" fill="#008cff" stroke="#008cff" stroke-width="0.6"/>
<path d="M30.33 -113.19A117.18 117.18 0 0 0 0 -117.18L0 -97.61A97.61 97.61 0 0 1 25.26 -94.28Z" fill="#008cff" stroke="#008cff" stroke-width="0.6"/>
<path d="M0 -117.18A117.18 117.18 0 0 0 -30.33 -113.19L-25.26 -94.28A97.61 97.61 0 0 1 0 -97.61Z" fill="#008cff" stroke="#008cff" stroke-width="0.6"/>
<path d="M-30.33 -113.19A117.18 117.18 0 0 0 -58.59 -101.48L-48.8 -84.53A97.61 97.61 0 0 1 -25.26 -94.28Z" fill="#004dff" stroke="#004dff" stroke-width="0.6"/>
<path d="M-58.59 -101.48A117.18 117.18 0 0 0 -82.86 -82.86L-69.02 -69.02A97.61 97.61 0 0 1 -48.8 -84.53Z" fill="#00d9ff" stroke="#00d9ff" stroke-width="0.6"/>
<path d="M-82.86 -82.86A117.18 117.18 0 0 0 -101.48 -58.59L-84.53 -48.8A97.61 97.61 0 0 1 -69.02 -69.02Z" fill="#0040ff" stroke="#0040ff" stroke-width="0.6"/>
<path d="M-101.48 -58.59A117.18 117.18 0 0 0 -113.19 -30.33L-94.28 -25.26A97.61 97.61 0 0 1 -84.53 -48.8Z" fill="#0026ff" stroke="#0026ff" stroke-width="0.6"/>
<path d="M-113.19 -30.33A117.18 117.18 0 0 0 -117.18 0L-97.61 0A97.61 97.61 0 0 1 -94.28 -25.26Z" fill="#0000f2" stroke="#0000f2" stroke-width="0.6"/>
<path d="M-117.18 0A117.18 117.18 0 0 0 -113.19 30.33L-94.28 25.26A97.61 97.61 0 0 1 -97.61 0Z" fill="#0033ff" stroke="#0033ff" stroke-width="0.6"/>
<path d="M-113.19 30.33A117.18 117.18 0 0 0 -101.48 58.59L-84.53 48.81A97.61 97.61 0 0 1 -94.28 25.26Z" fill="#0019ff" stroke="#0019ff" stroke-width="0.6"/>
<path d="M-101.48 58.59A117.18 117.18 0 0 0 -82.86 82.86L-69.02 69.02A97.61 97.61 0 0 1 -84.53 48.81Z" fill="#0019ff" stroke="#0019ff" stroke-width="0.6"/>
<path d="M-82.86 82.86A117.18 117.18 0 0 0 -58.59 101.48L-48.81 84.53A97.61 97.61 0 0 1 -69.02 69.02Z" fill="#0000ff" stroke="#0000ff" stroke-width="0.6"/>
<path d="M-58.59 101.48A117.18 117.18 0 0 0 -30.33 113.19L-25.26 94.28A97.61 97.61 0 0 1 -48.81 84.53Z" fill="#0000ff" stroke="#0000ff" stroke-width="0.6"/>
<path d="M-30.33 113.19A117.18 117.18 0 0 0 0 117.18L0 97.61A97.61 97.61 0 0 1 -25.26 94.28Z" fill="#0059ff" stroke="#0059ff" stroke-width="0.6"/>
<path d="M0 117.18A117.18 117.18 0 0 0 30.33 113.19L25.26 94.28A97.61 97.61 0 0 1 0 97.61Z" fill="#000dff" stroke="#000dff" stroke-width="0.6"/>
<path d="M30.33 113.19A117.18 117.18 0 0 0 58.59 101.48L48.81 84.53A97.61 97.61 0 0 1 25.26 94.28Z" fill="#0000ff" stroke="#0000ff" stroke-width="0.6"/>
<path d="M58.59 101.48A117.18 117.18 0 0 0 82.86 82.86L69.02 69.02A97.61 97.61 0 0 1 48.81 84.53Z" fill="#0026ff" stroke="#0026ff" stroke-width="0.6"/>
<path d="M82.86 82.86A117.18 117.18 0 0 0 101.48 58.59L84.53 48.81A97.61 97.61 0 0 1 69.02 69.02Z" fill="#0040ff" stroke="#0040ff" stroke-width="0.6"/>
<path d="M101.48 58.59A117.18 117.18 0 0 0 113.19 30.33L94.28 25.26A97.61 97.61 0 0 1 84.53 48.81Z" fill="#0059ff" stroke="#0059ff" stroke-width="0.6"/>
<path d="M113.19 30.33A117.18 117.18 0 0 0 117.18 0L97.61 0A97.61 97.61 0 0 1 94.28 25.26Z" fill="#ffb200" stroke="#ffb200" stroke-width="0.6"/>
<path d="M136.75 0A136.75 136.75 0 0 0 132.09 -35.39L113.19 -30.33A117.18 117.18 0 0 1 117.18 0Z" fill="#00bfff" stroke="#00bfff" stroke-width="0.6"/>
<path d="M132.09 -35.39A136.75 136.75 0 0 0 118.43 -68.37L101.48 -58.59A117.18 117.18 0 0 1 113.19 -30.33Z" fill="#ffcc00" stroke="#ffcc00" stroke-width="0.6"/>
<path d="M118.43 -68.37A136.75 136.75 0 0 0 96.7 -96.7L82.86 -82.86A117.18 117.18 0 0 1 101.48 -58.59Z" fill="#0080ff" stroke="#0080ff" stroke-width="0.6"/>
<path d="M96.7 -96.7A136.75 136.75 0 0 0 68.38 -118.43L58.59 -101.48A117.18 117.18 0 0 1 82.86 -82.86Z" fill="#004dff" stroke="#004dff" stroke-width="0.6"/>
<path d="M68.38 -118.43A136.75 136.75 0 0 0 35.39 -132.09L30.33 -113.19A117.18 117.18 0 0 1 58.59 -101.48Z" fill="#0059ff" stroke="#0059ff" stroke-width="0.6"/>
<path d="M35.39 -132.09A136.75 136.75 0 0 0 0 -136.75L0 -117.18A117.18 117.18 0 0 1 30.33 -113.19Z" fill="#008cff" stroke="#008cff" stroke-width="0.6"/>
<path d="M0 -136.75A136.75 136.75 0 0 0 -35.39 -132.09L-30.33 -113.19A117.18 117.18 0 0 1 0 -117.18Z" fill="#00ccff" stroke="#00ccff" stroke-width="0.6"/>
<path d="M-35.39 -132.09A136.75 136.75 0 0 0 -68.37 -118.43L-58.59 -101.48A117.18 117.18 0 0 1 -30.33 -113.19Z" fill="#0066ff" stroke="#0066ff" stroke-width="0.6"/>
<path d="M-68.37 -118.43A136.75 136.75 0 0 0 -96.7 -96.7L-82.86 -82.86A117.18 117.18 0 0 1 -58.59 -101.48Z" fill="#0033ff" stroke="#0033ff" stroke-width="0.6"/>
<path d="M-96.7 -96.7A136.75 136.75 0 0 0 -118.43 -68.37L-101.48 -58.59A117.18 117.18 0 0 1 -82.86 -82.86Z" fill="#000dff" stroke="#000dff" stroke-width="0.6"/>
<path d="M-118.43 -68.37A136.75 136.75 0 0 0 -132.09 -35.39L-113.19 -30.33A117.18 117.18 0 0 1 -101.48 -58.59Z" fill="#000dff" stroke="#000dff" stroke-width="0.6"/>
<path d="M-132.09 -35.39A136.75 136.75 0 0 0 -136.75 0L-117.18 0A117.18 117.18 0 0 1 -113.19 -30.33Z" fill="#0019ff" stroke="#0019ff" stroke-width="0.6"/>
<path d="M-136.75 0A136.75 136.75 0 0 0 -132.09 35.39L-113.19 30.33A117.18 117.18 0 0 1 -117.18 0Z" fill="#0066ff" stroke="#0066ff" stroke-width="0.6"/>
<path d="M-132.09 35.39A136.75 136.75 0 0 0 -118.43 68.38L-101.48 58.59A117.18 117.18 0 0 1 -113.19 30.33Z" fill="#0040ff" stroke="#0040ff" stroke-width="0.6"/>
<path d="M-118.43 68.38A136.75 136.75 0 0 0 -96.7 96.7L-82.86 82.86A117.18 117.18 0 0 1 -101.48 58.59Z" fill="#004dff" stroke="#004dff" stroke-width="0.6"/>
<path d="M-96.7 96.7A136.75 136.75 0 0 0 -68.38 118.43L-58.59 101.48A117.18 117.18 0 0 1 -82.86 82.86Z" fill="#0033ff" stroke="#0033ff" stroke-width="0.6"/>
<path d="M-68.38 118.43A136.75 136.75 0 0 0 -35.39 132.09L-30.33 113.19A117.18 117.18 0 0 1 -58.59 101.48Z" fill="#0000ff" stroke="#0000ff" stroke-width="0.6"/>
<path d="M-35.39 132.09A136.75 136.75 0 0 0 0 136.75L0 117.18A117.18 117.18 0 0 1 -30.33 113.19Z" fill="#0000ff" stroke="#0000ff" stroke-width="0.6"/>
<path d="M0 136.75A136.75 136.75 0 0 0 35.39 132.09L30.33 113.19A117.18 117.18 0 0 1 0 117.18Z" fill="#000dff" stroke="#000dff" stroke-width="0.6"/>
<path d="M35.39 132.09A136.75 136.75 0 0 0 68.38 118.43L58.59 101.48A117.18 117.18 0 0 1 30.33 113.19Z" fill="#000dff" stroke="#000dff" stroke-width="0.6"/>
<path d="M68.38 118.43A136.75 136.75 0 0 0 96.7 96.7L82.86 82.86A117.18 117.18 0 0 1 58.59 101.48Z" fill="#0066ff" stroke="#0066ff" stroke-width="0.6"/>
<path d="M96.7 96.7A136.75 136.75 0 0 0 118.43 68.38L101.48 58.59A117.18 117.18 0 0 1 82.86 82.86Z" fill="#0066ff" stroke="#0066ff" stroke-width="0.6"/>
<path d="M118.43 68.38A136.75 136.75 0 0 0 132.09 35.39L113.19 30.33A117.18 117.18 0 0 1 101.48 58.59Z" fill="#0059ff" stroke="#0059ff" stroke-width="0.6"/>
<path d="M132.09 35.39A136.75 136.75 0 0 0 136.75 0L117.18 0A117.18 117.18 0 0 1 113.19 30.33Z" fill="#00a6ff" stroke="#00a6ff" stroke-width="0.6"/>
<path d="M156.32 0A156.32 156.32 0 0 0 150.99 -40.46L132.09 -35.39A136.75 136.75 0 0 1 136.75 0Z" fill="#33ffcc" stroke="#33ffcc" stroke-width="0.6"/>
<path d="M150.99 -40.46A156.32 156.32 0 0 0 135.38 -78.16L118.43 -68.37A136.75 136.75 0 0 1 132.09 -35.39Z" fill="#0dfff2" stroke="#0dfff2" stroke-width="0.6"/>
<path d="M135.38 -78.16A156.32 156.32 0 0 0 110.53 -110.53L96.7 -96.7A136.75 136.75 0 0 1 118.43 -68.37Z" fill="#008cff" stroke="#008cff" stroke-width="0.6"/>
<path d="M110.53 -110.53A156.32 156.32 0 0 0 78.16 -135.38L68.38 -118.43A136.75 136.75 0 0 1 96.7 -96.7Z" fill="#004dff" stroke="#004dff" stroke-width="0.6"/>
<path d="M78.16 -135.38A156.32 156.32 0 0 0 40.46 -150.99L35.39 -132.09A136.75 136.75 0 0 1 68.38 -118.43Z" fill="#0066ff" stroke="#0066ff" stroke-width="0.6"/>
<path d="M40.46 -150.99A156.32 156.32 0 0 0 0 -156.32L0 -136.75A136.75 136.75 0 0 1 35.39 -132.09Z" fill="#0073ff" stroke="#0073ff" stroke-width="0.6"/>
<path d="M0 -156.32A156.32 156.32 0 0 0 -40.46 -150.99L-35.39 -132.09A136.75 136.75 0 0 1 0 -136.75Z" fill="#0066ff" stroke="#0066ff" stroke-width="0.6"/>
<path d="M-40.46 -150.99A156.32 156.32 0 0 0 -78.16 -135.38L-68.37 -118.43A136.75 136.75 0 0 1 -35.39 -132.09Z" fill="#8cff73" stroke="#8cff73" stroke-width="0.6"/>
<path d="M-78.16 -135.38A156.32 156.32 0 0 0 -110.53 -110.53L-96.7 -96.7A136.75 136.75 0 0 1 -68.37 -118.43Z" fill="#0019ff" stroke="#0019ff" stroke-width="0.6"/>
<path d="M-110.53 -110.53A156.32 156.32 0 0 0 -135.38 -78.16L-118.43 -68.37A136.75 136.75 0 0 1 -96.7 -96.7Z" fill="#0000ff" stroke="#0000ff" stroke-width="0.6"/>
<path d="M-135.38 -78.16A156.32 156.32 0 0 0 -150.99 -40.46L-132.09 -35.39A136.75 136.75 0 0 1 -118.43 -68.37Z" fill="#0026ff" stroke="#0026ff" stroke-width="0.6"/>
<path d="M-150.99 -40.46A156.32 156.32 0 0 0 -156.32 0L-136.75 0A136.75 136.75 0 0 1 -132.09 -35.39Z" fill="#0000ff" stroke="#0000ff" stroke-width="0.6"/>
<path d="M-156.32 0A156.32 156.32 0 0 0 -150.99 40.46L-132.09 35.39A136.75 136.75 0 0 1 -136.75 0Z" fill="#0066ff" stroke="#0066ff" stroke-width="0.6"/>
<path d="M-150.99 40.46A156.32 156.32 0 0 0 -135.38 78.16L-118.43 68.38A136.75 136.75 0 0 1 -132.09 35.39Z" fill="#0026ff" stroke="#0026ff" stroke-width="0.6"/>
<path d="M-135.38 78.16A156.32 156.32 0 0 0 -110.53 110.53L-96.7 96.7A136.75 136.75 0 0 1 -118.43 68.38Z" fill="#0000ff" stroke="#0000ff" stroke-width="0.6"/>
<path d="M-110.53 110.53A156.32 156.32 0 0 0 -78.16 135.38L-68.38 118.43A136.75 136.75 0 0 1 -96.7 96.7Z" fill="#0026ff" stroke="#0026ff" stroke-width="0.6"/>
<path d="M-78.16 135.38A156.32 156.32 0 0 0 -40.46 150.99L-35.39 132.09A136.75 136.75 0 0 1 -68.38 118.43Z" fill="#0019ff" stroke="#0019ff" stroke-width="0.6"/>
<path d="M-40.46 150.99A156.32 156.32 0 0 0 0 156.32L0 136.75A136.75 136.75 0 0 1 -35.39 132.09Z" fill="#0026ff" stroke="#0026ff" stroke-width="0.6"/>
<path d="M0 156.32A156.32 156.32 0 0 0 40.46 150.99L35.39 132.09A136.75 136.75 0 0 1 0 136.75Z" fill="#0033ff" stroke="#0033ff" stroke-width="0.6"/>
<path d="M40.46 150.99A156.32 156.32 0 0 0 78.16 135.38L68.38 118.43A136.75 136.75 0 0 1 35.39 132.09Z" fill="#0073ff" stroke="#0073ff" stroke-width="0.6"/>
<path d="M78.16 135.38A156.32 156.32 0 0 0 110.53 110.53L96.7 96.7A136.75 136.75 0 0 1 68.38 118.43Z" fill="#00ccff" stroke="#00ccff" stroke-width="0.6"/>
<path d="M110.53 110.53A156.32 156.32 0 0 0 135.38 78.16L118.43 68.38A136.75 136.75 0 0 1 96.7 96.7Z" fill="#0019ff" stroke="#0019ff" stroke-width="0.6"/>
<path d="M135.38 78.16A156.32 156.32 0 0 0 150.99 40.46L132.09 35.39A136.75 136.75 0 0 1 118.43 68.38Z" fill="#0040ff" stroke="#0040ff" stroke-width="0.6"/>
<path d="M150.99 40.46A156.32 156.32 0 0 0 156.32 0L136.75 0A136.75 136.75 0 0 1 132.09 35.39Z" fill="#0080ff" stroke="#0080ff" stroke-width="0.6"/>
<path d="M175.89 0A175.89 175.89 0 0 0 169.9 -45.52L150.99 -40.46A156.32 156.32 0 0 1 156.32 0Z" fill="#0080ff" stroke="#0080ff" stroke-width="0.6"/>
<path d="M169.9 -45.52A175.89 175.89 0 0 0 152.33 -87.94L135.38 -78.16A156.32 156.32 0 0 1 150.99 -40.46Z" fill="#004dff" stroke="#004dff" stroke-width="0.6"/>
<path d="M152.33 -87.94A175.89 175.89 0 0 0 124.37 -124.37L110.53 -110.53A156.32 156.32 0 0 1 135.38 -78.16Z" fill="#4dffb2" stroke="#4dffb2" stroke-width="0.6"/>
<path d="M124.37 -124.37A175.89 175.89 0 0 0 87.95 -152.33L78.16 -135.38A156.32 156.32 0 0 1 110.53 -110.53Z" fill="#0080ff" stroke="#0080ff" stroke-width="0.6"/>
<path d="M87.95 -152.33A175.89 175.89 0 0 0 45.52 -169.9L40.46 -150.99A156.32 156.32 0 0 1 78.16 -135.38Z" fill="#0066ff" stroke="#0066ff" stroke-width="0.6"/>
<path d="M45.52 -169.9A175.89 175.89 0 0 0 0 -175.89L0 -156.32A156.32 156.32 0 0 1 40.46 -150.99Z" fill="#0059ff" stroke="#0059ff" stroke-width="0.6"/>
<path d="M0 -175.89A175.89 175.89 0 0 0 -45.52 -169.9L-40.46 -150.99A156.32 156.32 0 0 1 0 -156.32Z" fill="#0099ff" stroke="#0099ff" stroke-width="0.6"/>
<path d="M-45.52 -169.9A175.89 175.89 0 0 0 -87.94 -152.33L-78.16 -135.38A156.32 156.32 0 0 1 -40.46 -150.99Z" fill="#40ffbf" stroke="#40ffbf" stroke-width="0.6"/>
<path d="M-87.94 -152.33A175.89 175.89 0 0 0 -124.37 -124.37L-110.53 -110.53A156.32 156.32 0 0 1 -78.16 -135.38Z" fill="#000dff" stroke="#000dff" stroke-width="0.6"/>
<path d="M-124.37 -124.37A175.89 175.89 0 0 0 -152.33 -87.94L-135.38 -78.16A156.32 156.32 0 0 1 -110.53 -110.53Z" fill="#0019ff" stroke="#0019ff" stroke-width="0.6"/>
<path d="M-152.33 -87.94A175.89 175.89 0 0 0 -169.9 -45.52L-150.99 -40.46A156.32 156.32 0 0 1 -135.38 -78.16Z" fill="#0026ff" stroke="#0026ff" stroke-width="0.6"/>
<path d="M-169.9 -45.52A175.89 175.89 0 0 0 -175.89 0L-156.32 0A156.32 156.32 0 0 1 -150.99 -40.46Z" fill="#0026ff" stroke="#0026ff" stroke-width="0.6"/>
<path d="M-175.89 0A175.89 175.89 0 0 0 -169.9 45.52L-150.99 40.46A156.32 156.32 0 0 1 -156.32 0Z" fill="#004dff" stroke="#004dff" stroke-width="0.6"/>
<path d="M-169.9 45.52A175.89 175.89 0 0 0 -152.33 87.95L-135.38 78.16A156.32 156.32 0 0 1 -150.99 40.46Z" fill="#0000ff" stroke="#0000ff" stroke-width="0.6"/>
<path d="M-152.33 87.95A175.89 175.89 0 0 0 -124.37 124.37L-110.53 110.53A156.32 156.32 0 0 1 -135.38 78.16Z" fill="#000dff" stroke="#000dff" stroke-width="0.6"/>
<path d="M-124.37 124.37A175.89 175.89 0 0 0 -87.95 152.33L-78.16 135.38A156.32 156.32 0 0 1 -110.53 110.53Z" fill="#0026ff" stroke="#0026ff" stroke-width="0.6"/>
<path d="M-87.95 152.33A175.89 175.89 0 0 0 -45.52 169.9L-40.46 150.99A156.32 156.32 0 0 1 -78.16 135.38Z" fill="#000dff" stroke="#000dff" stroke-width="0.6"/>
<path d="M-45.52 169.9A175.89 175.89 0 0 0 0 175.89L0 156.32A156.32 156.32 0 0 1 -40.46 150.99Z" fill="#004dff" stroke="#004dff" stroke-width="0.6"/>
<path d="M0 175.89A175.89 175.89 0 0 0 45.52 169.9L40.46 150.99A156.32 156.32 0 0 1 0 156.32Z" fill="#0066ff" stroke="#0066ff" stroke-width="0.6"/>
<path d="M45.52 169.9A175.89 175.89 0 0 0 87.95 152.33L78.16 135.38A156.32 156.32 0 0 1 40.46 150.99Z" fill="#008cff" stroke="#008cff" stroke-width="0.6"/>
<path d="M87.95 152.33A175.89 175.89 0 0 0 124.37 124.37L110.53 110.53A156.32 156.32 0 0 1 78.16 135.38Z" fill="#0073ff" stroke="#0073ff" stroke-width="0.6"/>
<path d="M124.37 124.37A175.89 175.89 0 0 0 152.33 87.95L135.38 78.16A156.32 156.32 0 0 1 110.53 110.53Z" fill="#0026ff" stroke="#0026ff" stroke-width="0.6"/>
<path d="M152.33 87.95A175.89 175.89 0 0 0 169.9 45.52L150.99 40.46A156.32 156.32 0 0 1 135.38 78.16Z" fill="#0026ff" stroke="#0026ff" stroke-width="0.6"/>
<path d="M169.9 45.52A175.89 175.89 0 0 0 175.89 0L156.32 0A156.32 156.32 0 0 1 150.99 40.46Z" fill="#008cff" stroke="#008cff" stroke-width="0.6"/>
<path d="M195.46 0A195.46 195.46 0 0 0 188.8 -50.59L169.9 -45.52A175.89 175.89 0 0 1 175.89 0Z" fill="#00a6ff" stroke="#00a6ff" stroke-width="0.6"/>
<path d="M188.8 -50.59A195.46 195.46 0 0 0 169.27 -97.73L152.33 -87.94A175.89 175.89 0 0 1 169.9 -45.52Z" fill="#0073ff" stroke="#0073ff" stroke-width="0.6"/>
<path d="M169.27 -97.73A195.46 195.46 0 0 0 138.21 -138.21L124.37 -124.37A175.89 175.89 0 0 1 152.33 -87.94Z" fill="#0066ff" stroke="#0066ff" stroke-width="0.6"/>
<path d="M138.21 -138.21A195.46 195.46 0 0 0 97.73 -169.27L87.95 -152.33A175.89 175.89 0 0 1 124.37 -124.37Z" fill="#008cff" stroke="#008cff" stroke-width="0.6"/>
<path d="M97.73 -169.27A195.46 195.46 0 0 0 50.59 -188.8L45.52 -169.9A175.89 175.89 0 0 1 87.95 -152.33Z" fill="#004dff" stroke="#004dff" stroke-width="0.6"/>
<path d="M50.59 -188.8A195.46 195.46 0 0 0 0 -195.46L0 -175.89A175.89 175.89 0 0 1 45.52 -169.9Z" fill="#004dff" stroke="#004dff" stroke-width="0.6"/>
<path d="M0 -195.46A195.46 195.46 0 0 0 -50.59 -188.8L-45.52 -169.9A175.89 175.89 0 0 1 0 -175.89Z" fill="#0099ff" stroke="#0099ff" stroke-width="0.6"/>
<path d="M-50.59 -188.8A195.46 195.46 0 0 0 -97.73 -169.27L-87.94 -152.33A175.89 175.89 0 0 1 -45.52 -169.9Z" fill="#000dff" stroke="#000dff" stroke-width="0.6"/>
<path d="M-97.73 -169.27A195.46 195.46 0 0 0 -138.21 -138.21L-124.37 -124.37A175.89 175.89 0 0 1 -87.94 -152.33Z" fill="#00ffff" stroke="#00ffff" stroke-width="0.6"/>
<path d="M-138.21 -138.21A195.46 195.46 0 0 0 -169.27 -97.73L-152.33 -87.94A175.89 175.89 0 0 1 -124.37 -124.37Z" fill="#0019ff" stroke="#0019ff" stroke-width="0.6"/>
<path d="M-169.27 -97.73A195.46 195.46 0 0 0 -188.8 -50.59L-169.9 -45.52A175.89 175.89 0 0 1 -152.33 -87.94Z" fill="#0040ff" stroke="#0040ff" stroke-width="0.6"/>
<path d="M-188.8 -50.59A195.46 195.46 0 0 0 -195.46 0L-175.89 0A175.89 175.89 0 0 1 -169.9 -45.52Z" fill="#0059ff" stroke="#0059ff" stroke-width="0.6"/>
<path d="M-195.46 0A195.46 195.46 0 0 0 -188.8 50.59L-169.9 45.52A175.89 175.89 0 0 1 -175.89 0Z" fill="#0026ff" stroke="#0026ff" stroke-width="0.6"/>
<path d="M-188.8 50.59A195.46 195.46 0 0 0 -169.27 97.73L-152.33 87.95A175.89 175.89 0 0 1 -169.9 45.52Z" fill="#004dff" stroke="#004dff" stroke-width="0.6"/>
<path d="M-169.27 97.73A195.46 195.46 0 0 0 -138.21 138.21L-124.37 124.37A175.89 175.89 0 0 1 -152.33 87.95Z" fill="#00a6ff" stroke="#00a6ff" stroke-width="0.6"/>
<path d="M-138.21 138.21A195.46 195.46 0 0 0 -97.73 169.27L-87.95 152.33A175.89 175.89 0 0 1 -124.37 124.37Z" fill="#004dff" stroke="#004dff" stroke-width="0.6"/>
<path d="M-97.73 169.27A195.46 195.46 0 0 0 -50.59 188.8L-45.52 169.9A175.89 175.89 0 0 1 -87.95 152.33Z" fill="#0040ff" stroke="#0040ff" stroke-width="0.6"/>
<path d="M-50.59 188.8A195.46 195.46 0 0 0 0 195.46L0 175.89A175.89 175.89 0 0 1 -45.52 169.9Z" fill="#0059ff" stroke="#0059ff" stroke-width="0.6"/>
<path d="M0 195.46A195.46 195.46 0 0 0 50.59 188.8L45.52 169.9A175.89 175.89 0 0 1 0 175.89Z" fill="#0059ff" stroke="#0059ff" stroke-width="0.6"/>
<path d="M50.59 188.8A195.46 195.46 0 0 0 97.73 169.27L87.95 152.33A175.89 175.89 0 0 1 45.52 169.9Z" fill="#0099ff" stroke="#0099ff" stroke-width="0.6"/>
<path d="M97.73 169.27A195.46 195.46 0 0 0 138.21 138.21L124.37 124.37A175.89 175.89 0 0 1 87.95 152.33Z" fill="#0080ff" stroke="#0080ff" stroke-width="0.6"/>
<path d="M138.21 138.21A195.46 195.46 0 0 0 169.27 97.73L152.33 87.95A175.89 175.89 0 0 1 124.37 124.37Z" fill="#0080ff" stroke="#0080ff" stroke-width="0.6"/>
<path d="M169.27 97.73A195.46 195.46 0 0 0 188.8 50.59L169.9 45.52A175.89 175.89 0 0 1 152.33 87.95Z" fill="#0066ff" stroke="#0066ff" stroke-width="0.6"/>
<path d="M188.8 50.59A195.46 195.46 0 0 0 195.46 0L175.89 0A175.89 175.89 0 0 1 169.9 45.52Z" fill="#0073ff" stroke="#0073ff" stroke-width="0.6"/>
<path d="M215.03 0A215.03 215.03 0 0 0 207.7 -55.65L188.8 -50.59A195.46 195.46 0 0 1 195.46 0Z" fill="#00bfff" stroke="#00bfff" stroke-width="0.6"/>
<path d="M207.7 -55.65A215.03 215.03 0 0 0 186.22 -107.51L169.27 -97.73A195.46 195.46 0 0 1 188.8 -50.59Z" fill="#0099ff" stroke="#0099ff" stroke-width="0.6"/>
<path d="M186.22 -107.51A215.03 215.03 0 0 0 152.05 -152.05L138.21 -138.21A195.46 195.46 0 0 1 169.27 -97.73Z" fill="#004dff" stroke="#004dff" stroke-width="0.6"/>
<path d="M152.05 -152.05A215.03 215.03 0 0 0 107.52 -186.22L97.73 -169.27A195.46 195.46 0 0 1 138.21 -138.21Z" fill="#00d9ff" stroke="#00d9ff" stroke-width="0.6"/>
<path d="M107.52 -186.22A215.03 215.03 0 0 0 55.65 -207.7L50.59 -188.8A195.46 195.46 0 0 1 97.73 -169.27Z" fill="#0026ff" stroke="#0026ff" stroke-width="0.6"/>
<path d="M55.65 -207.7A215.03 215.03 0 0 0 0 -215.03L0 -195.46A195.46 195.46 0 0 1 50.59 -188.8Z" fill="#0059ff" stroke="#0059ff" stroke-width="0.6"/>
<path d="M0 -215.03A215.03 215.03 0 0 0 -55.65 -207.7L-50.59 -188.8A195.46 195.46 0 0 1 0 -195.46Z" fill="#0059ff" stroke="#0059ff" stroke-width="0.6"/>
<path d="M-55.65 -207.7A215.03 215.03 0 0 0 -107.51 -186.22L-97.73 -169.27A195.46 195.46 0 0 1 -50.59 -188.8Z" fill="#0033ff" stroke="#0033ff" stroke-width="0.6"/>
<path d="M-107.51 -186.22A215.03 215.03 0 0 0 -152.05 -152.05L-138.21 -138.21A195.46 195.46 0 0 1 -97.73 -169.27Z" fill="#0066ff" stroke="#0066ff" stroke-width="0.6"/>
<path d="M-152.05 -152.05A215.03 215.03 0 0 0 -186.22 -107.51L-169.27 -97.73A195.46 195.46 0 0 1 -138.21 -138.21Z" fill="#0040ff" stroke="#0040ff" stroke-width="0.6"/>
<path d="M-186.22 -107.51A215.03 215.03 0 0 0 -207.7 -55.65L-188.8 -50.59A195.46 195.46 0 0 1 -169.27 -97.73Z" fill="#0033ff" stroke="#0033ff" stroke-width="0.6"/>
<path d="M-207.7 -55.65A215.03 215.03 0 0 0 -215.03 0L-195.46 0A195.46 195.46 0 0 1 -188.8 -50.59Z" fill="#0066ff" stroke="#0066ff" stroke-width="0.6"/>
<path d="M-215.03 0A215.03 215.03 0 0 0 -207.7 55.65L-188.8 50.59A195.46 195.46 0 0 1 -195.46 0Z" fill="#004dff" stroke="#004dff" stroke-width="0.6"/>
<path d="M-207.7 55.65A215.03 215.03 0 0 0 -186.22 107.52L-169.27 97.73A195.46 195.46 0 0 1 -188.8 50.59Z" fill="#0099ff" stroke="#0099ff" stroke-width="0.6"/>
<path d="M-186.22 107.52A215.03 215.03 0 0 0 -152.05 152.05L-138.21 138.21A195.46 195.46 0 0 1 -169.27 97.73Z" fill="#0073ff" stroke="#0073ff" stroke-width="0.6"/>
<path d="M-152.05 152.05A215.03 215.03 0 0 0 -107.52 186.22L-97.73 169.27A195.46 195.46 0 0 1 -138.21 138.21Z" fill="#0073ff" stroke="#0073ff" stroke-width="0.6"/>
<path d="M-107.52 186.22A215.03 215.03 0 0 0 -55.65 207.7L-50.59 188.8A195.46 195.46 0 0 1 -97.73 169.27Z" fill="#0073ff" stroke="#0073ff" stroke-width="0.6"/>
<path d="M-55.65 207.7A215.03 215.03 0 0 0 0 215.03L0 195.46A195.46 195.46 0 0 1 -50.59 188.8Z" fill="#0080ff" stroke="#0080ff" stroke-width="0.6"/>
<path d="M0 215.03A215.03 215.03 0 0 0 55.65 207.7L50.59 188.8A195.46 195.46 0 0 1 0 195.46Z" fill="#0080ff" stroke="#0080ff" stroke-width="0.6"/>
<path d="M55.65 207.7A215.03 215.03 0 0 0 107.52 186.22L97.73 169.27A195.46 195.46 0 0 1 50.59 188.8Z" fill="#00a6ff" stroke="#00a6ff" stroke-width="0.6"/>
<path d="M107.52 186.22A215.03 215.03 0 0 0 152.05 152.05L138.21 138.21A195.46 195.46 0 0 1 97.73 169.27Z" fill="#00ffff" stroke="#00ffff" stroke-width="0.6"/>
<path d="M152.05 152.05A215.03 215.03 0 0 0 186.22 107.52L169.27 97.73A195.46 195.46 0 0 1 138.21 138.21Z" fill="#0080ff" stroke="#0080ff" stroke-width="0.6"/>
<path d="M186.22 107.52A215.03 215.03 0 0 0 207.7 55.65L188.8 50.59A195.46 195.46 0 0 1 169.27 97.73Z" fill="#008cff" stroke="#008cff" stroke-width="0.6"/>
<path d="M207.7 55.65A215.03 215.03 0 0 0 215.03 0L195.46 0A195.46 195.46 0 0 1 188.8 50.59Z" fill="#00ffff" stroke="#00ffff" stroke-width="0.6"/>
<path d="M234.6 0A234.6 234.6 0 0 0 226.61 -60.72L207.7 -55.65A215.03 215.03 0 0 1 215.03 0Z" fill="#00ffff" stroke="#00ffff" stroke-width="0.6"/>
<path d="M226.61 -60.72A234.6 234.6 0 0 0 203.17 -117.3L186.22 -107.51A215.03 215.03 0 0 1 207.7 -55.65Z" fill="#00ffff" stroke="#00ffff" stroke-width="0.6"/>
<path d="M203.17 -117.3A234.6 234.6 0 0 0 165.89 -165.89L152.05 -152.05A215.03 215.03 0 0 1 186.22 -107.51Z" fill="#0019ff" stroke="#0019ff" stroke-width="0.6"/>
<path d="M165.89 -165.89A234.6 234.6 0 0 0 117.3 -203.17L107.52 -186.22A215.03 215.03 0 0 1 152.05 -152.05Z" fill="#004dff" stroke="#004dff" stroke-width="0.6"/>
<path d="M117.3 -203.17A234.6 234.6 0 0 0 60.72 -226.61L55.65 -207.7A215.03 215.03 0 0 1 107.52 -186.22Z" fill="#0026ff" stroke="#0026ff" stroke-width="0.6"/>
<path d="M60.72 -226.61A234.6 234.6 0 0 0 0 -234.6L0 -215.03A215.03 215.03 0 0 1 55.65 -207.7Z" fill="#004dff" stroke="#004dff" stroke-width="0.6"/>
<path d="M0 -234.6A234.6 234.6 0 0 0 -60.72 -226.61L-55.65 -207.7A215.03 215.03 0 0 1 0 -215.03Z" fill="#0080ff" stroke="#0080ff" stroke-width="0.6"/>
<path d="M-60.72 -226.61A234.6 234.6 0 0 0 -117.3 -203.17L-107.51 -186.22A215.03 215.03 0 0 1 -55.65 -207.7Z" fill="#0059ff" stroke="#0059ff" stroke-width="0.6"/>
<path d="M-117.3 -203.17A234.6 234.6 0 0 0 -165.89 -165.89L-152.05 -152.05A215.03 215.03 0 0 1 -107.51 -186.22Z" fill="#0059ff" stroke="#0059ff" stroke-width="0.6"/>
<path d="M-165.89 -165.89A234.6 234.6 0 0 0 -203.17 -117.3L-186.22 -107.51A215.03 215.03 0 0 1 -152.05 -152.05Z" fill="#0040ff" stroke="#0040ff" stroke-width="0.6"/>
<path d="M-203.17 -117.3A234.6 234.6 0 0 0 -226.61 -60.72L-207.7 -55.65A215.03 215.03 0 0 1 -186.22 -107.51Z" fill="#004dff" stroke="#004dff" stroke-width="0.6"/>
<path d="M-226.61 -60.72A234.6 234.6 0 0 0 -234.6 0L-215.03 0A215.03 215.03 0 0 1 -207.7 -55.65Z" fill="#0033ff" stroke="#0033ff" stroke-width="0.6"/>
<path d="M-234.6 0A234.6 234.6 0 0 0 -226.61 60.72L-207.7 55.65A215.03 215.03 0 0 1 -215.03 0Z" fill="#0080ff" stroke="#0080ff" stroke-width="0.6"/>
<path d="M-226.61 60.72A234.6 234.6 0 0 0 -203.17 117.3L-186.22 107.52A215.03 215.03 0 0 1 -207.7 55.65Z" fill="#008cff" stroke="#008cff" stroke-width="0.6"/>
<path d="M-203.17 117.3A234.6 234.6 0 0 0 -165.89 165.89L-152.05 152.05A215.03 215.03 0 0 1 -186.22 107.52Z" fill="#0080ff" stroke="#0080ff" stroke-width="0.6"/>
<path d="M-165.89 165.89A234.6 234.6 0 0 0 -117.3 203.17L-107.52 186.22A215.03 215.03 0 0 1 -152.05 152.05Z" fill="#00bfff" stroke="#00bfff" stroke-width="0.6"/>
<path d="M-117.3 203.17A234.6 234.6 0 0 0 -60.72 226.61L-55.65 207.7A215.03 215.03 0 0 1 -107.52 186.22Z" fill="#0080ff" stroke="#0080ff" stroke-width="0.6"/>
<path d="M-60.72 226.61A234.6 234.6 0 0 0 0 234.6L0 215.03A215.03 215.03 0 0 1 -55.65 207.7Z" fill="#00b8ff" stroke="#00b8ff" stroke-width="0.6"/>
<path d="M0 234.6A234.6 234.6 0 0 0 60.72 226.61L55.65 207.7A215.03 215.03 0 0 1 0 215.03Z" fill="#00a8ff" stroke="#00a8ff" stroke-width="0.6"/>
<path d="M60.72 226.61A234.6 234.6 0 0 0 117.3 203.17L107.52 186.22A215.03 215.03 0 0 1 55.65 207.7Z" fill="#00a6ff" stroke="#00a6ff" stroke-width="0.6"/>
<path d="M117.3 203.17A234.6 234.6 0 0 0 165.89 165.89L152.05 152.05A215.03 215.03 0 0 1 107.52 186.22Z" fill="#1affe5" stroke="#1affe5" stroke-width="0.6"/>
<path d="M165.89 165.89A234.6 234.6 0 0 0 203.17 117.3L186.22 107.52A215.03 215.03 0 0 1 152.05 152.05Z" fill="#26ffd9" stroke="#26ffd9" stroke-width="0.6"/>
<path d="M203.17 117.3A234.6 234.6 0 0 0 226.61 60.72L207.7 55.65A215.03 215.03 0 0 1 186.22 107.52Z" fill="#00ffff" stroke="#00ffff" stroke-width="0.6"/>
<path d="M226.61 60.72A234.6 234.6 0 0 0 234.6 0L215.03 0A215.03 215.03 0 0 1 207.7 55.65Z" fill="#0dfff2" stroke="#0dfff2" stroke-width="0.6"/>
<g fill="none" stroke="#000">
<circle r="58.47" stroke-width="3.1"/>
<circle r="78.04" stroke-width="3.1"/>
<circle r="97.61" stroke-width="3.1"/>
<circle r="117.18" stroke-width="3.1"/>
<circle r="136.75" stroke-width="3.1"/>
<circle r="156.32" stroke-width="3.1"/>
<circle r="175.89" stroke-width="3.1"/>
<circle r="195.46" stroke-width="3.1"/>
<circle r="215.03" stroke-width="3.1"/>
<path d="M37.57 -10.07L226.61 -60.72M33.69 -19.45L203.17 -117.3M27.51 -27.51L165.89 -165.89M19.45 -33.69L117.3 -203.17M10.07 -37.57L60.72 -226.61M-10.07 -37.57L-60.72 -226.61M-19.45 -33.69L-117.3 -203.17M-27.51 -27.51L-165.89 -165.89M-33.69 -19.45L-203.17 -117.3M-37.57 -10.07L-226.61 -60.72M-37.57 10.07L-226.61 60.72M-33.69 19.45L-203.17 117.3M-27.51 27.51L-165.89 165.89M-19.45 33.69L-117.3 203.17M-10.07 37.57L-60.72 226.61M10.07 37.57L60.72 226.61M19.45 33.69L117.3 203.17M27.51 27.51L165.89 165.89M33.69 19.45L203.17 117.3M37.57 10.07L226.61 60.72" stroke-width="3.1"/>
<path d="M-234.6 0H-38.9M38.9 0H234.6M0 -234.6V-38.9M0 38.9V234.6" stroke-width="5"/>
<circle r="234.6" stroke-width="5"/>
</g>
<circle r="38.9" fill="#fff" stroke="#000" stroke-width="4.8"/>
<path d="M-1 -38.9H0A38.9 38.9 0 0 1 0 38.9H-1Z" fill="#000"/>
</g>
<text transform="translate(861 106) scale(1 1.055)" font-size="32" font-weight="bold" fill="#262626" text-anchor="middle">06</text>
<text transform="translate(848 610.5) scale(1 1.055)" font-size="32" font-weight="bold" fill="#262626" text-anchor="middle">18</text>
<text transform="translate(1106.7 358.7) scale(1 1.055)" font-size="32" font-weight="bold" fill="#262626" text-anchor="middle">00</text>
<text transform="translate(594.25 357) scale(1 1.055)" font-size="32" font-weight="bold" fill="#262626" text-anchor="middle">12</text>
<text x="627.65" y="126.7" font-size="40" font-weight="bold" fill="#262626" text-anchor="middle">(b)</text>
<text transform="translate(973 146) scale(1 1.02)" font-size="32" font-weight="bold" fill="#ff0000" text-anchor="start">L=6</text>
<text transform="translate(891.3 285.2) scale(1 1.02)" font-size="32" font-weight="bold" fill="#ff0000" text-anchor="start">L=2</text>
<!-- polar plot (c) -->
<g transform="translate(1414.4 347)">
<circle r="234.6" fill="#fff"/>
<path d="M97.61 0A97.61 97.61 0 0 0 94.28 -25.26L75.38 -20.2A78.04 78.04 0 0 1 78.04 0Z" fill="#00e5ff" stroke="#00e5ff" stroke-width="0.6"/>
<path d="M94.28 -25.26A97.61 97.61 0 0 0 84.53 -48.8L67.58 -39.02A78.04 78.04 0 0 1 75.38 -20.2Z" fill="#008cff" stroke="#008cff" stroke-width="0.6"/>
<path d="M84.53 -48.8A97.61 97.61 0 0 0 69.02 -69.02L55.18 -55.18A78.04 78.04 0 0 1 67.58 -39.02Z" fill="#0019ff" stroke="#0019ff" stroke-width="0.6"/>
<path d="M69.02 -69.02A97.61 97.61 0 0 0 48.81 -84.53L39.02 -67.58A78.04 78.04 0 0 1 55.18 -55.18Z" fill="#00b3ff" stroke="#00b3ff" stroke-width="0.6"/>
<path d="M48.81 -84.53A97.61 97.61 0 0 0 25.26 -94.28L20.2 -75.38A78.04 78.04 0 0 1 39.02 -67.58Z" fill="#ccff33" stroke="#ccff33" stroke-width="0.6"/>
<path d="M25.26 -94.28A97.61 97.61 0 0 0 0 -97.61L0 -78.04A78.04 78.04 0 0 1 20.2 -75.38Z" fill="#fff200" stroke="#fff200" stroke-width="0.6"/>
<path d="M0 -97.61A97.61 97.61 0 0 0 -25.26 -94.28L-20.2 -75.38A78.04 78.04 0 0 1 0 -78.04Z" fill="#00d9ff" stroke="#00d9ff" stroke-width="0.6"/>
<path d="M-25.26 -94.28A97.61 97.61 0 0 0 -48.8 -84.53L-39.02 -67.58A78.04 78.04 0 0 1 -20.2 -75.38Z" fill="#4dffb2" stroke="#4dffb2" stroke-width="0.6"/>
<path d="M-48.8 -84.53A97.61 97.61 0 0 0 -69.02 -69.02L-55.18 -55.18A78.04 78.04 0 0 1 -39.02 -67.58Z" fill="#80ff80" stroke="#80ff80" stroke-width="0.6"/>
<path d="M-69.02 -69.02A97.61 97.61 0 0 0 -84.53 -48.8L-67.58 -39.02A78.04 78.04 0 0 1 -55.18 -55.18Z" fill="#0019ff" stroke="#0019ff" stroke-width="0.6"/>
<path d="M-84.53 -48.8A97.61 97.61 0 0 0 -94.28 -25.26L-75.38 -20.2A78.04 78.04 0 0 1 -67.58 -39.02Z" fill="#0000ff" stroke="#0000ff" stroke-width="0.6"/>
<path d="M-94.28 -25.26A97.61 97.61 0 0 0 -97.61 0L-78.04 0A78.04 78.04 0 0 1 -75.38 -20.2Z" fill="#0000ff" stroke="#0000ff" stroke-width="0.6"/>
<path d="M-97.61 0A97.61 97.61 0 0 0 -94.28 25.26L-75.38 20.2A78.04 78.04 0 0 1 -78.04 0Z" fill="#0080ff" stroke="#0080ff" stroke-width="0.6"/>
<path d="M-94.28 25.26A97.61 97.61 0 0 0 -84.53 48.81L-67.58 39.02A78.04 78.04 0 0 1 -75.38 20.2Z" fill="#00ffff" stroke="#00ffff" stroke-width="0.6"/>
<path d="M-84.53 48.81A97.61 97.61 0 0 0 -69.02 69.02L-55.18 55.18A78.04 78.04 0 0 1 -67.58 39.02Z" fill="#008cff" stroke="#008cff" stroke-width="0.6"/>
<path d="M-69.02 69.02A97.61 97.61 0 0 0 -48.81 84.53L-39.02 67.58A78.04 78.04 0 0 1 -55.18 55.18Z" fill="#00a6ff" stroke="#00a6ff" stroke-width="0.6"/>
<path d="M-48.81 84.53A97.61 97.61 0 0 0 -25.26 94.28L-20.2 75.38A78.04 78.04 0 0 1 -39.02 67.58Z" fill="#000dff" stroke="#000dff" stroke-width="0.6"/>
<path d="M-25.26 94.28A97.61 97.61 0 0 0 0 97.61L0 78.04A78.04 78.04 0 0 1 -20.2 75.38Z" fill="#40ffbf" stroke="#40ffbf" stroke-width="0.6"/>
<path d="M0 97.61A97.61 97.61 0 0 0 25.26 94.28L20.2 75.38A78.04 78.04 0 0 1 0 78.04Z" fill="#0000e6" stroke="#0000e6" stroke-width="0.6"/>
<path d="M25.26 94.28A97.61 97.61 0 0 0 48.81 84.53L39.02 67.58A78.04 78.04 0 0 1 20.2 75.38Z" fill="#0066ff" stroke="#0066ff" stroke-width="0.6"/>
<path d="M48.81 84.53A97.61 97.61 0 0 0 69.02 69.02L55.18 55.18A78.04 78.04 0 0 1 39.02 67.58Z" fill="#f20000" stroke="#f20000" stroke-width="0.6"/>
<path d="M69.02 69.02A97.61 97.61 0 0 0 84.53 48.81L67.58 39.02A78.04 78.04 0 0 1 55.18 55.18Z" fill="#0033ff" stroke="#0033ff" stroke-width="0.6"/>
<path d="M84.53 48.81A97.61 97.61 0 0 0 94.28 25.26L75.38 20.2A78.04 78.04 0 0 1 67.58 39.02Z" fill="#33ffcc" stroke="#33ffcc" stroke-width="0.6"/>
<path d="M94.28 25.26A97.61 97.61 0 0 0 97.61 0L78.04 0A78.04 78.04 0 0 1 75.38 20.2Z" fill="#0066ff" stroke="#0066ff" stroke-width="0.6"/>
<path d="M117.18 0A117.18 117.18 0 0 0 113.19 -30.33L94.28 -25.26A97.61 97.61 0 0 1 97.61 0Z" fill="#99ff66" stroke="#99ff66" stroke-width="0.6"/>
<path d="M113.19 -30.33A117.18 117.18 0 0 0 101.48 -58.59L84.53 -48.8A97.61 97.61 0 0 1 94.28 -25.26Z" fill="#0099ff" stroke="#0099ff" stroke-width="0.6"/>
<path d="M101.48 -58.59A117.18 117.18 0 0 0 82.86 -82.86L69.02 -69.02A97.61 97.61 0 0 1 84.53 -48.8Z" fill="#f2ff0d" stroke="#f2ff0d" stroke-width="0.6"/>
<path d="M82.86 -82.86A117.18 117.18 0 0 0 58.59 -101.48L48.81 -84.53A97.61 97.61 0 0 1 69.02 -69.02Z" fill="#66ff99" stroke="#66ff99" stroke-width="0.6"/>
<path d="M58.59 -101.48A117.18 117.18 0 0 0 30.33 -113.19L25.26 -94.28A97.61 97.61 0 0 1 48.81 -84.53Z" fill="#0033ff" stroke="#0033ff" stroke-width="0.6"/>
<path d="M30.33 -113.19A117.18 117.18 0 0 0 0 -117.18L0 -97.61A97.61 97.61 0 0 1 25.26 -94.28Z" fill="#00f2ff" stroke="#00f2ff" stroke-width="0.6"/>
<path d="M0 -117.18A117.18 117.18 0 0 0 -30.33 -113.19L-25.26 -94.28A97.61 97.61 0 0 1 0 -97.61Z" fill="#00e5ff" stroke="#00e5ff" stroke-width="0.6"/>
<path d="M-30.33 -113.19A117.18 117.18 0 0 0 -58.59 -101.48L-48.8 -84.53A97.61 97.61 0 0 1 -25.26 -94.28Z" fill="#33ffcc" stroke="#33ffcc" stroke-width="0.6"/>
<path d="M-58.59 -101.48A117.18 117.18 0 0 0 -82.86 -82.86L-69.02 -69.02A97.61 97.61 0 0 1 -48.8 -84.53Z" fill="#ffcc00" stroke="#ffcc00" stroke-width="0.6"/>
<path d="M-82.86 -82.86A117.18 117.18 0 0 0 -101.48 -58.59L-84.53 -48.8A97.61 97.61 0 0 1 -69.02 -69.02Z" fill="#0061ff" stroke="#0061ff" stroke-width="0.6"/>
<path d="M-101.48 -58.59A117.18 117.18 0 0 0 -113.19 -30.33L-94.28 -25.26A97.61 97.61 0 0 1 -84.53 -48.8Z" fill="#0000f2" stroke="#0000f2" stroke-width="0.6"/>
<path d="M-113.19 -30.33A117.18 117.18 0 0 0 -117.18 0L-97.61 0A97.61 97.61 0 0 1 -94.28 -25.26Z" fill="#0000ff" stroke="#0000ff" stroke-width="0.6"/>
<path d="M-117.18 0A117.18 117.18 0 0 0 -113.19 30.33L-94.28 25.26A97.61 97.61 0 0 1 -97.61 0Z" fill="#00f2ff" stroke="#00f2ff" stroke-width="0.6"/>
<path d="M-113.19 30.33A117.18 117.18 0 0 0 -101.48 58.59L-84.53 48.81A97.61 97.61 0 0 1 -94.28 25.26Z" fill="#00ffff" stroke="#00ffff" stroke-width="0.6"/>
<path d="M-101.48 58.59A117.18 117.18 0 0 0 -82.86 82.86L-69.02 69.02A97.61 97.61 0 0 1 -84.53 48.81Z" fill="#0019ff" stroke="#0019ff" stroke-width="0.6"/>
<path d="M-82.86 82.86A117.18 117.18 0 0 0 -58.59 101.48L-48.81 84.53A97.61 97.61 0 0 1 -69.02 69.02Z" fill="#00ccff" stroke="#00ccff" stroke-width="0.6"/>
<path d="M-58.59 101.48A117.18 117.18 0 0 0 -30.33 113.19L-25.26 94.28A97.61 97.61 0 0 1 -48.81 84.53Z" fill="#00b3ff" stroke="#00b3ff" stroke-width="0.6"/>
<path d="M-30.33 113.19A117.18 117.18 0 0 0 0 117.18L0 97.61A97.61 97.61 0 0 1 -25.26 94.28Z" fill="#0080ff" stroke="#0080ff" stroke-width="0.6"/>
<path d="M0 117.18A117.18 117.18 0 0 0 30.33 113.19L25.26 94.28A97.61 97.61 0 0 1 0 97.61Z" fill="#0040ff" stroke="#0040ff" stroke-width="0.6"/>
<path d="M30.33 113.19A117.18 117.18 0 0 0 58.59 101.48L48.81 84.53A97.61 97.61 0 0 1 25.26 94.28Z" fill="#0059ff" stroke="#0059ff" stroke-width="0.6"/>
<path d="M58.59 101.48A117.18 117.18 0 0 0 82.86 82.86L69.02 69.02A97.61 97.61 0 0 1 48.81 84.53Z" fill="#0040ff" stroke="#0040ff" stroke-width="0.6"/>
<path d="M82.86 82.86A117.18 117.18 0 0 0 101.48 58.59L84.53 48.81A97.61 97.61 0 0 1 69.02 69.02Z" fill="#0073ff" stroke="#0073ff" stroke-width="0.6"/>
<path d="M101.48 58.59A117.18 117.18 0 0 0 113.19 30.33L94.28 25.26A97.61 97.61 0 0 1 84.53 48.81Z" fill="#33ffcc" stroke="#33ffcc" stroke-width="0.6"/>
<path d="M113.19 30.33A117.18 117.18 0 0 0 117.18 0L97.61 0A97.61 97.61 0 0 1 94.28 25.26Z" fill="#e6ff19" stroke="#e6ff19" stroke-width="0.6"/>
<path d="M136.75 0A136.75 136.75 0 0 0 132.09 -35.39L113.19 -30.33A117.18 117.18 0 0 1 117.18 0Z" fill="#ffe500" stroke="#ffe500" stroke-width="0.6"/>
<path d="M132.09 -35.39A136.75 136.75 0 0 0 118.43 -68.37L101.48 -58.59A117.18 117.18 0 0 1 113.19 -30.33Z" fill="#00ffff" stroke="#00ffff" stroke-width="0.6"/>
<path d="M118.43 -68.37A136.75 136.75 0 0 0 96.7 -96.7L82.86 -82.86A117.18 117.18 0 0 1 101.48 -58.59Z" fill="#ffd900" stroke="#ffd900" stroke-width="0.6"/>
<path d="M96.7 -96.7A136.75 136.75 0 0 0 68.38 -118.43L58.59 -101.48A117.18 117.18 0 0 1 82.86 -82.86Z" fill="#004dff" stroke="#004dff" stroke-width="0.6"/>
<path d="M68.38 -118.43A136.75 136.75 0 0 0 35.39 -132.09L30.33 -113.19A117.18 117.18 0 0 1 58.59 -101.48Z" fill="#00e5ff" stroke="#00e5ff" stroke-width="0.6"/>
<path d="M35.39 -132.09A136.75 136.75 0 0 0 0 -136.75L0 -117.18A117.18 117.18 0 0 1 30.33 -113.19Z" fill="#0073ff" stroke="#0073ff" stroke-width="0.6"/>
<path d="M0 -136.75A136.75 136.75 0 0 0 -35.39 -132.09L-30.33 -113.19A117.18 117.18 0 0 1 0 -117.18Z" fill="#0dfff2" stroke="#0dfff2" stroke-width="0.6"/>
<path d="M-35.39 -132.09A136.75 136.75 0 0 0 -68.37 -118.43L-58.59 -101.48A117.18 117.18 0 0 1 -30.33 -113.19Z" fill="#26ffd9" stroke="#26ffd9" stroke-width="0.6"/>
<path d="M-68.37 -118.43A136.75 136.75 0 0 0 -96.7 -96.7L-82.86 -82.86A117.18 117.18 0 0 1 -58.59 -101.48Z" fill="#0040ff" stroke="#0040ff" stroke-width="0.6"/>
<path d="M-96.7 -96.7A136.75 136.75 0 0 0 -118.43 -68.37L-101.48 -58.59A117.18 117.18 0 0 1 -82.86 -82.86Z" fill="#0073ff" stroke="#0073ff" stroke-width="0.6"/>
<path d="M-118.43 -68.37A136.75 136.75 0 0 0 -132.09 -35.39L-113.19 -30.33A117.18 117.18 0 0 1 -101.48 -58.59Z" fill="#0000e6" stroke="#0000e6" stroke-width="0.6"/>
<path d="M-132.09 -35.39A136.75 136.75 0 0 0 -136.75 0L-117.18 0A117.18 117.18 0 0 1 -113.19 -30.33Z" fill="#0059ff" stroke="#0059ff" stroke-width="0.6"/>
<path d="M-136.75 0A136.75 136.75 0 0 0 -132.09 35.39L-113.19 30.33A117.18 117.18 0 0 1 -117.18 0Z" fill="#000dff" stroke="#000dff" stroke-width="0.6"/>
<path d="M-132.09 35.39A136.75 136.75 0 0 0 -118.43 68.38L-101.48 58.59A117.18 117.18 0 0 1 -113.19 30.33Z" fill="#00bfff" stroke="#00bfff" stroke-width="0.6"/>
<path d="M-118.43 68.38A136.75 136.75 0 0 0 -96.7 96.7L-82.86 82.86A117.18 117.18 0 0 1 -101.48 58.59Z" fill="#00d9ff" stroke="#00d9ff" stroke-width="0.6"/>
<path d="M-96.7 96.7A136.75 136.75 0 0 0 -68.38 118.43L-58.59 101.48A117.18 117.18 0 0 1 -82.86 82.86Z" fill="#0040ff" stroke="#0040ff" stroke-width="0.6"/>
<path d="M-68.38 118.43A136.75 136.75 0 0 0 -35.39 132.09L-30.33 113.19A117.18 117.18 0 0 1 -58.59 101.48Z" fill="#b3ff4c" stroke="#b3ff4c" stroke-width="0.6"/>
<path d="M-35.39 132.09A136.75 136.75 0 0 0 0 136.75L0 117.18A117.18 117.18 0 0 1 -30.33 113.19Z" fill="#00a6ff" stroke="#00a6ff" stroke-width="0.6"/>
<path d="M0 136.75A136.75 136.75 0 0 0 35.39 132.09L30.33 113.19A117.18 117.18 0 0 1 0 117.18Z" fill="#00f2ff" stroke="#00f2ff" stroke-width="0.6"/>
<path d="M35.39 132.09A136.75 136.75 0 0 0 68.38 118.43L58.59 101.48A117.18 117.18 0 0 1 30.33 113.19Z" fill="#0059ff" stroke="#0059ff" stroke-width="0.6"/>
<path d="M68.38 118.43A136.75 136.75 0 0 0 96.7 96.7L82.86 82.86A117.18 117.18 0 0 1 58.59 101.48Z" fill="#0059ff" stroke="#0059ff" stroke-width="0.6"/>
<path d="M96.7 96.7A136.75 136.75 0 0 0 118.43 68.38L101.48 58.59A117.18 117.18 0 0 1 82.86 82.86Z" fill="#004dff" stroke="#004dff" stroke-width="0.6"/>
<path d="M118.43 68.38A136.75 136.75 0 0 0 132.09 35.39L113.19 30.33A117.18 117.18 0 0 1 101.48 58.59Z" fill="#99ff66" stroke="#99ff66" stroke-width="0.6"/>
<path d="M132.09 35.39A136.75 136.75 0 0 0 136.75 0L117.18 0A117.18 117.18 0 0 1 113.19 30.33Z" fill="#008cff" stroke="#008cff" stroke-width="0.6"/>
<path d="M156.32 0A156.32 156.32 0 0 0 150.99 -40.46L132.09 -35.39A136.75 136.75 0 0 1 136.75 0Z" fill="#990000" stroke="#990000" stroke-width="0.6"/>
<path d="M150.99 -40.46A156.32 156.32 0 0 0 135.38 -78.16L118.43 -68.37A136.75 136.75 0 0 1 132.09 -35.39Z" fill="#73ff8c" stroke="#73ff8c" stroke-width="0.6"/>
<path d="M135.38 -78.16A156.32 156.32 0 0 0 110.53 -110.53L96.7 -96.7A136.75 136.75 0 0 1 118.43 -68.37Z" fill="#0040ff" stroke="#0040ff" stroke-width="0.6"/>
<path d="M110.53 -110.53A156.32 156.32 0 0 0 78.16 -135.38L68.38 -118.43A136.75 136.75 0 0 1 96.7 -96.7Z" fill="#59ffa6" stroke="#59ffa6" stroke-width="0.6"/>
<path d="M78.16 -135.38A156.32 156.32 0 0 0 40.46 -150.99L35.39 -132.09A136.75 136.75 0 0 1 68.38 -118.43Z" fill="#0080ff" stroke="#0080ff" stroke-width="0.6"/>
<path d="M40.46 -150.99A156.32 156.32 0 0 0 0 -156.32L0 -136.75A136.75 136.75 0 0 1 35.39 -132.09Z" fill="#0059ff" stroke="#0059ff" stroke-width="0.6"/>
<path d="M0 -156.32A156.32 156.32 0 0 0 -40.46 -150.99L-35.39 -132.09A136.75 136.75 0 0 1 0 -136.75Z" fill="#008cff" stroke="#008cff" stroke-width="0.6"/>
<path d="M-40.46 -150.99A156.32 156.32 0 0 0 -78.16 -135.38L-68.37 -118.43A136.75 136.75 0 0 1 -35.39 -132.09Z" fill="#00d9ff" stroke="#00d9ff" stroke-width="0.6"/>
<path d="M-78.16 -135.38A156.32 156.32 0 0 0 -110.53 -110.53L-96.7 -96.7A136.75 136.75 0 0 1 -68.37 -118.43Z" fill="#0033ff" stroke="#0033ff" stroke-width="0.6"/>
<path d="M-110.53 -110.53A156.32 156.32 0 0 0 -135.38 -78.16L-118.43 -68.37A136.75 136.75 0 0 1 -96.7 -96.7Z" fill="#00e5ff" stroke="#00e5ff" stroke-width="0.6"/>
<path d="M-135.38 -78.16A156.32 156.32 0 0 0 -150.99 -40.46L-132.09 -35.39A136.75 136.75 0 0 1 -118.43 -68.37Z" fill="#0000ff" stroke="#0000ff" stroke-width="0.6"/>
<path d="M-150.99 -40.46A156.32 156.32 0 0 0 -156.32 0L-136.75 0A136.75 136.75 0 0 1 -132.09 -35.39Z" fill="#008cff" stroke="#008cff" stroke-width="0.6"/>
<path d="M-156.32 0A156.32 156.32 0 0 0 -150.99 40.46L-132.09 35.39A136.75 136.75 0 0 1 -136.75 0Z" fill="#0000ff" stroke="#0000ff" stroke-width="0.6"/>
<path d="M-150.99 40.46A156.32 156.32 0 0 0 -135.38 78.16L-118.43 68.38A136.75 136.75 0 0 1 -132.09 35.39Z" fill="#0059ff" stroke="#0059ff" stroke-width="0.6"/>
<path d="M-135.38 78.16A156.32 156.32 0 0 0 -110.53 110.53L-96.7 96.7A136.75 136.75 0 0 1 -118.43 68.38Z" fill="#00ffff" stroke="#00ffff" stroke-width="0.6"/>
<path d="M-110.53 110.53A156.32 156.32 0 0 0 -78.16 135.38L-68.38 118.43A136.75 136.75 0 0 1 -96.7 96.7Z" fill="#0099ff" stroke="#0099ff" stroke-width="0.6"/>
<path d="M-78.16 135.38A156.32 156.32 0 0 0 -40.46 150.99L-35.39 132.09A136.75 136.75 0 0 1 -68.38 118.43Z" fill="#00d9ff" stroke="#00d9ff" stroke-width="0.6"/>
<path d="M-40.46 150.99A156.32 156.32 0 0 0 0 156.32L0 136.75A136.75 136.75 0 0 1 -35.39 132.09Z" fill="#8cff73" stroke="#8cff73" stroke-width="0.6"/>
<path d="M0 156.32A156.32 156.32 0 0 0 40.46 150.99L35.39 132.09A136.75 136.75 0 0 1 0 136.75Z" fill="#0099ff" stroke="#0099ff" stroke-width="0.6"/>
<path d="M40.46 150.99A156.32 156.32 0 0 0 78.16 135.38L68.38 118.43A136.75 136.75 0 0 1 35.39 132.09Z" fill="#0040ff" stroke="#0040ff" stroke-width="0.6"/>
<path d="M78.16 135.38A156.32 156.32 0 0 0 110.53 110.53L96.7 96.7A136.75 136.75 0 0 1 68.38 118.43Z" fill="#0066ff" stroke="#0066ff" stroke-width="0.6"/>
<path d="M110.53 110.53A156.32 156.32 0 0 0 135.38 78.16L118.43 68.38A136.75 136.75 0 0 1 96.7 96.7Z" fill="#0040ff" stroke="#0040ff" stroke-width="0.6"/>
<path d="M135.38 78.16A156.32 156.32 0 0 0 150.99 40.46L132.09 35.39A136.75 136.75 0 0 1 118.43 68.38Z" fill="#00a6ff" stroke="#00a6ff" stroke-width="0.6"/>
<path d="M150.99 40.46A156.32 156.32 0 0 0 156.32 0L136.75 0A136.75 136.75 0 0 1 132.09 35.39Z" fill="#26ffd9" stroke="#26ffd9" stroke-width="0.6"/>
<path d="M175.89 0A175.89 175.89 0 0 0 169.9 -45.52L150.99 -40.46A156.32 156.32 0 0 1 156.32 0Z" fill="#004dff" stroke="#004dff" stroke-width="0.6"/>
<path d="M169.9 -45.52A175.89 175.89 0 0 0 152.33 -87.94L135.38 -78.16A156.32 156.32 0 0 1 150.99 -40.46Z" fill="#ff1900" stroke="#ff1900" stroke-width="0.6"/>
<path d="M152.33 -87.94A175.89 175.89 0 0 0 124.37 -124.37L110.53 -110.53A156.32 156.32 0 0 1 135.38 -78.16Z" fill="#0073ff" stroke="#0073ff" stroke-width="0.6"/>
<path d="M124.37 -124.37A175.89 175.89 0 0 0 87.95 -152.33L78.16 -135.38A156.32 156.32 0 0 1 110.53 -110.53Z" fill="#0080ff" stroke="#0080ff" stroke-width="0.6"/>
<path d="M87.95 -152.33A175.89 175.89 0 0 0 45.52 -169.9L40.46 -150.99A156.32 156.32 0 0 1 78.16 -135.38Z" fill="#0073ff" stroke="#0073ff" stroke-width="0.6"/>
<path d="M45.52 -169.9A175.89 175.89 0 0 0 0 -175.89L0 -156.32A156.32 156.32 0 0 1 40.46 -150.99Z" fill="#004dff" stroke="#004dff" stroke-width="0.6"/>
<path d="M0 -175.89A175.89 175.89 0 0 0 -45.52 -169.9L-40.46 -150.99A156.32 156.32 0 0 1 0 -156.32Z" fill="#008cff" stroke="#008cff" stroke-width="0.6"/>
<path d="M-45.52 -169.9A175.89 175.89 0 0 0 -87.94 -152.33L-78.16 -135.38A156.32 156.32 0 0 1 -40.46 -150.99Z" fill="#66ff99" stroke="#66ff99" stroke-width="0.6"/>
<path d="M-87.94 -152.33A175.89 175.89 0 0 0 -124.37 -124.37L-110.53 -110.53A156.32 156.32 0 0 1 -78.16 -135.38Z" fill="#0000ff" stroke="#0000ff" stroke-width="0.6"/>
<path d="M-124.37 -124.37A175.89 175.89 0 0 0 -152.33 -87.94L-135.38 -78.16A156.32 156.32 0 0 1 -110.53 -110.53Z" fill="#0000ff" stroke="#0000ff" stroke-width="0.6"/>
<path d="M-152.33 -87.94A175.89 175.89 0 0 0 -169.9 -45.52L-150.99 -40.46A156.32 156.32 0 0 1 -135.38 -78.16Z" fill="#26ffd9" stroke="#26ffd9" stroke-width="0.6"/>
<path d="M-169.9 -45.52A175.89 175.89 0 0 0 -175.89 0L-156.32 0A156.32 156.32 0 0 1 -150.99 -40.46Z" fill="#0026ff" stroke="#0026ff" stroke-width="0.6"/>
<path d="M-175.89 0A175.89 175.89 0 0 0 -169.9 45.52L-150.99 40.46A156.32 156.32 0 0 1 -156.32 0Z" fill="#0033ff" stroke="#0033ff" stroke-width="0.6"/>
<path d="M-169.9 45.52A175.89 175.89 0 0 0 -152.33 87.95L-135.38 78.16A156.32 156.32 0 0 1 -150.99 40.46Z" fill="#004dff" stroke="#004dff" stroke-width="0.6"/>
<path d="M-152.33 87.95A175.89 175.89 0 0 0 -124.37 124.37L-110.53 110.53A156.32 156.32 0 0 1 -135.38 78.16Z" fill="#00ccff" stroke="#00ccff" stroke-width="0.6"/>
<path d="M-124.37 124.37A175.89 175.89 0 0 0 -87.95 152.33L-78.16 135.38A156.32 156.32 0 0 1 -110.53 110.53Z" fill="#0dfff2" stroke="#0dfff2" stroke-width="0.6"/>
<path d="M-87.95 152.33A175.89 175.89 0 0 0 -45.52 169.9L-40.46 150.99A156.32 156.32 0 0 1 -78.16 135.38Z" fill="#0099ff" stroke="#0099ff" stroke-width="0.6"/>
<path d="M-45.52 169.9A175.89 175.89 0 0 0 0 175.89L0 156.32A156.32 156.32 0 0 1 -40.46 150.99Z" fill="#80ff80" stroke="#80ff80" stroke-width="0.6"/>
<path d="M0 175.89A175.89 175.89 0 0 0 45.52 169.9L40.46 150.99A156.32 156.32 0 0 1 0 156.32Z" fill="#0066ff" stroke="#0066ff" stroke-width="0.6"/>
<path d="M45.52 169.9A175.89 175.89 0 0 0 87.95 152.33L78.16 135.38A156.32 156.32 0 0 1 40.46 150.99Z" fill="#004dff" stroke="#004dff" stroke-width="0.6"/>
<path d="M87.95 152.33A175.89 175.89 0 0 0 124.37 124.37L110.53 110.53A156.32 156.32 0 0 1 78.16 135.38Z" fill="#004dff" stroke="#004dff" stroke-width="0.6"/>
<path d="M124.37 124.37A175.89 175.89 0 0 0 152.33 87.95L135.38 78.16A156.32 156.32 0 0 1 110.53 110.53Z" fill="#0033ff" stroke="#0033ff" stroke-width="0.6"/>
<path d="M152.33 87.95A175.89 175.89 0 0 0 169.9 45.52L150.99 40.46A156.32 156.32 0 0 1 135.38 78.16Z" fill="#00bfff" stroke="#00bfff" stroke-width="0.6"/>
<path d="M169.9 45.52A175.89 175.89 0 0 0 175.89 0L156.32 0A156.32 156.32 0 0 1 150.99 40.46Z" fill="#b3ff4c" stroke="#b3ff4c" stroke-width="0.6"/>
<path d="M195.46 0A195.46 195.46 0 0 0 188.8 -50.59L169.9 -45.52A175.89 175.89 0 0 1 175.89 0Z" fill="#0080ff" stroke="#0080ff" stroke-width="0.6"/>
<path d="M188.8 -50.59A195.46 195.46 0 0 0 169.27 -97.73L152.33 -87.94A175.89 175.89 0 0 1 169.9 -45.52Z" fill="#73ff8c" stroke="#73ff8c" stroke-width="0.6"/>
<path d="M169.27 -97.73A195.46 195.46 0 0 0 138.21 -138.21L124.37 -124.37A175.89 175.89 0 0 1 152.33 -87.94Z" fill="#0099ff" stroke="#0099ff" stroke-width="0.6"/>
<path d="M138.21 -138.21A195.46 195.46 0 0 0 97.73 -169.27L87.95 -152.33A175.89 175.89 0 0 1 124.37 -124.37Z" fill="#00ccff" stroke="#00ccff" stroke-width="0.6"/>
<path d="M97.73 -169.27A195.46 195.46 0 0 0 50.59 -188.8L45.52 -169.9A175.89 175.89 0 0 1 87.95 -152.33Z" fill="#0066ff" stroke="#0066ff" stroke-width="0.6"/>
<path d="M50.59 -188.8A195.46 195.46 0 0 0 0 -195.46L0 -175.89A175.89 175.89 0 0 1 45.52 -169.9Z" fill="#0099ff" stroke="#0099ff" stroke-width="0.6"/>
<path d="M0 -195.46A195.46 195.46 0 0 0 -50.59 -188.8L-45.52 -169.9A175.89 175.89 0 0 1 0 -175.89Z" fill="#0066ff" stroke="#0066ff" stroke-width="0.6"/>
<path d="M-50.59 -188.8A195.46 195.46 0 0 0 -97.73 -169.27L-87.94 -152.33A175.89 175.89 0 0 1 -45.52 -169.9Z" fill="#00d9ff" stroke="#00d9ff" stroke-width="0.6"/>
<path d="M-97.73 -169.27A195.46 195.46 0 0 0 -138.21 -138.21L-124.37 -124.37A175.89 175.89 0 0 1 -87.94 -152.33Z" fill="#0073ff" stroke="#0073ff" stroke-width="0.6"/>
<path d="M-138.21 -138.21A195.46 195.46 0 0 0 -169.27 -97.73L-152.33 -87.94A175.89 175.89 0 0 1 -124.37 -124.37Z" fill="#0026ff" stroke="#0026ff" stroke-width="0.6"/>
<path d="M-169.27 -97.73A195.46 195.46 0 0 0 -188.8 -50.59L-169.9 -45.52A175.89 175.89 0 0 1 -152.33 -87.94Z" fill="#33ffcc" stroke="#33ffcc" stroke-width="0.6"/>
<path d="M-188.8 -50.59A195.46 195.46 0 0 0 -195.46 0L-175.89 0A175.89 175.89 0 0 1 -169.9 -45.52Z" fill="#00f2ff" stroke="#00f2ff" stroke-width="0.6"/>
<path d="M-195.46 0A195.46 195.46 0 0 0 -188.8 50.59L-169.9 45.52A175.89 175.89 0 0 1 -175.89 0Z" fill="#0026ff" stroke="#0026ff" stroke-width="0.6"/>
<path d="M-188.8 50.59A195.46 195.46 0 0 0 -169.27 97.73L-152.33 87.95A175.89 175.89 0 0 1 -169.9 45.52Z" fill="#0073ff" stroke="#0073ff" stroke-width="0.6"/>
<path d="M-169.27 97.73A195.46 195.46 0 0 0 -138.21 138.21L-124.37 124.37A175.89 175.89 0 0 1 -152.33 87.95Z" fill="#33ffcc" stroke="#33ffcc" stroke-width="0.6"/>
<path d="M-138.21 138.21A195.46 195.46 0 0 0 -97.73 169.27L-87.95 152.33A175.89 175.89 0 0 1 -124.37 124.37Z" fill="#008cff" stroke="#008cff" stroke-width="0.6"/>
<path d="M-97.73 169.27A195.46 195.46 0 0 0 -50.59 188.8L-45.52 169.9A175.89 175.89 0 0 1 -87.95 152.33Z" fill="#33ffcc" stroke="#33ffcc" stroke-width="0.6"/>
<path d="M-50.59 188.8A195.46 195.46 0 0 0 0 195.46L0 175.89A175.89 175.89 0 0 1 -45.52 169.9Z" fill="#00b3ff" stroke="#00b3ff" stroke-width="0.6"/>
<path d="M0 195.46A195.46 195.46 0 0 0 50.59 188.8L45.52 169.9A175.89 175.89 0 0 1 0 175.89Z" fill="#0073ff" stroke="#0073ff" stroke-width="0.6"/>
<path d="M50.59 188.8A195.46 195.46 0 0 0 97.73 169.27L87.95 152.33A175.89 175.89 0 0 1 45.52 169.9Z" fill="#00f2ff" stroke="#00f2ff" stroke-width="0.6"/>
<path d="M97.73 169.27A195.46 195.46 0 0 0 138.21 138.21L124.37 124.37A175.89 175.89 0 0 1 87.95 152.33Z" fill="#004dff" stroke="#004dff" stroke-width="0.6"/>
<path d="M138.21 138.21A195.46 195.46 0 0 0 169.27 97.73L152.33 87.95A175.89 175.89 0 0 1 124.37 124.37Z" fill="#0059ff" stroke="#0059ff" stroke-width="0.6"/>
<path d="M169.27 97.73A195.46 195.46 0 0 0 188.8 50.59L169.9 45.52A175.89 175.89 0 0 1 152.33 87.95Z" fill="#ff8000" stroke="#ff8000" stroke-width="0.6"/>
<path d="M188.8 50.59A195.46 195.46 0 0 0 195.46 0L175.89 0A175.89 175.89 0 0 1 169.9 45.52Z" fill="#f2ff0d" stroke="#f2ff0d" stroke-width="0.6"/>
<path d="M215.03 0A215.03 215.03 0 0 0 207.7 -55.65L188.8 -50.59A195.46 195.46 0 0 1 195.46 0Z" fill="#0019ff" stroke="#0019ff" stroke-width="0.6"/>
<path d="M207.7 -55.65A215.03 215.03 0 0 0 186.22 -107.51L169.27 -97.73A195.46 195.46 0 0 1 188.8 -50.59Z" fill="#ff4c00" stroke="#ff4c00" stroke-width="0.6"/>
<path d="M186.22 -107.51A215.03 215.03 0 0 0 152.05 -152.05L138.21 -138.21A195.46 195.46 0 0 1 169.27 -97.73Z" fill="#0099ff" stroke="#0099ff" stroke-width="0.6"/>
<path d="M152.05 -152.05A215.03 215.03 0 0 0 107.52 -186.22L97.73 -169.27A195.46 195.46 0 0 1 138.21 -138.21Z" fill="#0000a6" stroke="#0000a6" stroke-width="0.6"/>
<path d="M107.52 -186.22A215.03 215.03 0 0 0 55.65 -207.7L50.59 -188.8A195.46 195.46 0 0 1 97.73 -169.27Z" fill="#0019ff" stroke="#0019ff" stroke-width="0.6"/>
<path d="M55.65 -207.7A215.03 215.03 0 0 0 0 -215.03L0 -195.46A195.46 195.46 0 0 1 50.59 -188.8Z" fill="#00b3ff" stroke="#00b3ff" stroke-width="0.6"/>
<path d="M0 -215.03A215.03 215.03 0 0 0 -55.65 -207.7L-50.59 -188.8A195.46 195.46 0 0 1 0 -195.46Z" fill="#008cff" stroke="#008cff" stroke-width="0.6"/>
<path d="M-55.65 -207.7A215.03 215.03 0 0 0 -107.51 -186.22L-97.73 -169.27A195.46 195.46 0 0 1 -50.59 -188.8Z" fill="#0099ff" stroke="#0099ff" stroke-width="0.6"/>
<path d="M-107.51 -186.22A215.03 215.03 0 0 0 -152.05 -152.05L-138.21 -138.21A195.46 195.46 0 0 1 -97.73 -169.27Z" fill="#4dffb2" stroke="#4dffb2" stroke-width="0.6"/>
<path d="M-152.05 -152.05A215.03 215.03 0 0 0 -186.22 -107.51L-169.27 -97.73A195.46 195.46 0 0 1 -138.21 -138.21Z" fill="#00e5ff" stroke="#00e5ff" stroke-width="0.6"/>
<path d="M-186.22 -107.51A215.03 215.03 0 0 0 -207.7 -55.65L-188.8 -50.59A195.46 195.46 0 0 1 -169.27 -97.73Z" fill="#0099ff" stroke="#0099ff" stroke-width="0.6"/>
<path d="M-207.7 -55.65A215.03 215.03 0 0 0 -215.03 0L-195.46 0A195.46 195.46 0 0 1 -188.8 -50.59Z" fill="#66ff99" stroke="#66ff99" stroke-width="0.6"/>
<path d="M-215.03 0A215.03 215.03 0 0 0 -207.7 55.65L-188.8 50.59A195.46 195.46 0 0 1 -195.46 0Z" fill="#0080ff" stroke="#0080ff" stroke-width="0.6"/>
<path d="M-207.7 55.65A215.03 215.03 0 0 0 -186.22 107.52L-169.27 97.73A195.46 195.46 0 0 1 -188.8 50.59Z" fill="#0059ff" stroke="#0059ff" stroke-width="0.6"/>
<path d="M-186.22 107.52A215.03 215.03 0 0 0 -152.05 152.05L-138.21 138.21A195.46 195.46 0 0 1 -169.27 97.73Z" fill="#66ff99" stroke="#66ff99" stroke-width="0.6"/>
<path d="M-152.05 152.05A215.03 215.03 0 0 0 -107.52 186.22L-97.73 169.27A195.46 195.46 0 0 1 -138.21 138.21Z" fill="#00ccff" stroke="#00ccff" stroke-width="0.6"/>
<path d="M-107.52 186.22A215.03 215.03 0 0 0 -55.65 207.7L-50.59 188.8A195.46 195.46 0 0 1 -97.73 169.27Z" fill="#00d9ff" stroke="#00d9ff" stroke-width="0.6"/>
<path d="M-55.65 207.7A215.03 215.03 0 0 0 0 215.03L0 195.46A195.46 195.46 0 0 1 -50.59 188.8Z" fill="#008cff" stroke="#008cff" stroke-width="0.6"/>
<path d="M0 215.03A215.03 215.03 0 0 0 55.65 207.7L50.59 188.8A195.46 195.46 0 0 1 0 195.46Z" fill="#0099ff" stroke="#0099ff" stroke-width="0.6"/>
<path d="M55.65 207.7A215.03 215.03 0 0 0 107.52 186.22L97.73 169.27A195.46 195.46 0 0 1 50.59 188.8Z" fill="#66ff99" stroke="#66ff99" stroke-width="0.6"/>
<path d="M107.52 186.22A215.03 215.03 0 0 0 152.05 152.05L138.21 138.21A195.46 195.46 0 0 1 97.73 169.27Z" fill="#008cff" stroke="#008cff" stroke-width="0.6"/>
<path d="M152.05 152.05A215.03 215.03 0 0 0 186.22 107.52L169.27 97.73A195.46 195.46 0 0 1 138.21 138.21Z" fill="#00a6ff" stroke="#00a6ff" stroke-width="0.6"/>
<path d="M186.22 107.52A215.03 215.03 0 0 0 207.7 55.65L188.8 50.59A195.46 195.46 0 0 1 169.27 97.73Z" fill="#ccff33" stroke="#ccff33" stroke-width="0.6"/>
<path d="M207.7 55.65A215.03 215.03 0 0 0 215.03 0L195.46 0A195.46 195.46 0 0 1 188.8 50.59Z" fill="#00ffff" stroke="#00ffff" stroke-width="0.6"/>
<path d="M234.6 0A234.6 234.6 0 0 0 226.61 -60.72L207.7 -55.65A215.03 215.03 0 0 1 215.03 0Z" fill="#ff8000" stroke="#ff8000" stroke-width="0.6"/>
<path d="M226.61 -60.72A234.6 234.6 0 0 0 203.17 -117.3L186.22 -107.51A215.03 215.03 0 0 1 207.7 -55.65Z" fill="#59ffa6" stroke="#59ffa6" stroke-width="0.6"/>
<path d="M203.17 -117.3A234.6 234.6 0 0 0 165.89 -165.89L152.05 -152.05A215.03 215.03 0 0 1 186.22 -107.51Z" fill="#008cff" stroke="#008cff" stroke-width="0.6"/>
<path d="M165.89 -165.89A234.6 234.6 0 0 0 117.3 -203.17L107.52 -186.22A215.03 215.03 0 0 1 152.05 -152.05Z" fill="#0000f2" stroke="#0000f2" stroke-width="0.6"/>
<path d="M117.3 -203.17A234.6 234.6 0 0 0 60.72 -226.61L55.65 -207.7A215.03 215.03 0 0 1 107.52 -186.22Z" fill="#33ffcc" stroke="#33ffcc" stroke-width="0.6"/>
<path d="M60.72 -226.61A234.6 234.6 0 0 0 0 -234.6L0 -215.03A215.03 215.03 0 0 1 55.65 -207.7Z" fill="#000dff" stroke="#000dff" stroke-width="0.6"/>
<path d="M0 -234.6A234.6 234.6 0 0 0 -60.72 -226.61L-55.65 -207.7A215.03 215.03 0 0 1 0 -215.03Z" fill="#00bfff" stroke="#00bfff" stroke-width="0.6"/>
<path d="M-60.72 -226.61A234.6 234.6 0 0 0 -117.3 -203.17L-107.51 -186.22A215.03 215.03 0 0 1 -55.65 -207.7Z" fill="#ffb200" stroke="#ffb200" stroke-width="0.6"/>
<path d="M-117.3 -203.17A234.6 234.6 0 0 0 -165.89 -165.89L-152.05 -152.05A215.03 215.03 0 0 1 -107.51 -186.22Z" fill="#00d9ff" stroke="#00d9ff" stroke-width="0.6"/>
<path d="M-165.89 -165.89A234.6 234.6 0 0 0 -203.17 -117.3L-186.22 -107.51A215.03 215.03 0 0 1 -152.05 -152.05Z" fill="#00ffff" stroke="#00ffff" stroke-width="0.6"/>
<path d="M-203.17 -117.3A234.6 234.6 0 0 0 -226.61 -60.72L-207.7 -55.65A215.03 215.03 0 0 1 -186.22 -107.51Z" fill="#1affe5" stroke="#1affe5" stroke-width="0.6"/>
<path d="M-226.61 -60.72A234.6 234.6 0 0 0 -234.6 0L-215.03 0A215.03 215.03 0 0 1 -207.7 -55.65Z" fill="#0040ff" stroke="#0040ff" stroke-width="0.6"/>
<path d="M-234.6 0A234.6 234.6 0 0 0 -226.61 60.72L-207.7 55.65A215.03 215.03 0 0 1 -215.03 0Z" fill="#008cff" stroke="#008cff" stroke-width="0.6"/>
<path d="M-226.61 60.72A234.6 234.6 0 0 0 -203.17 117.3L-186.22 107.52A215.03 215.03 0 0 1 -207.7 55.65Z" fill="#00ffff" stroke="#00ffff" stroke-width="0.6"/>
<path d="M-203.17 117.3A234.6 234.6 0 0 0 -165.89 165.89L-152.05 152.05A215.03 215.03 0 0 1 -186.22 107.52Z" fill="#40ffbf" stroke="#40ffbf" stroke-width="0.6"/>
<path d="M-165.89 165.89A234.6 234.6 0 0 0 -117.3 203.17L-107.52 186.22A215.03 215.03 0 0 1 -152.05 152.05Z" fill="#59ffa6" stroke="#59ffa6" stroke-width="0.6"/>
<path d="M-117.3 203.17A234.6 234.6 0 0 0 -60.72 226.61L-55.65 207.7A215.03 215.03 0 0 1 -107.52 186.22Z" fill="#00a6ff" stroke="#00a6ff" stroke-width="0.6"/>
<path d="M-60.72 226.61A234.6 234.6 0 0 0 0 234.6L0 215.03A215.03 215.03 0 0 1 -55.65 207.7Z" fill="#00a6ff" stroke="#00a6ff" stroke-width="0.6"/>
<path d="M0 234.6A234.6 234.6 0 0 0 60.72 226.61L55.65 207.7A215.03 215.03 0 0 1 0 215.03Z" fill="#00a6ff" stroke="#00a6ff" stroke-width="0.6"/>
<path d="M60.72 226.61A234.6 234.6 0 0 0 117.3 203.17L107.52 186.22A215.03 215.03 0 0 1 55.65 207.7Z" fill="#00ffff" stroke="#00ffff" stroke-width="0.6"/>
<path d="M117.3 203.17A234.6 234.6 0 0 0 165.89 165.89L152.05 152.05A215.03 215.03 0 0 1 107.52 186.22Z" fill="#ffa600" stroke="#ffa600" stroke-width="0.6"/>
<path d="M165.89 165.89A234.6 234.6 0 0 0 203.17 117.3L186.22 107.52A215.03 215.03 0 0 1 152.05 152.05Z" fill="#b3ff4c" stroke="#b3ff4c" stroke-width="0.6"/>
<path d="M203.17 117.3A234.6 234.6 0 0 0 226.61 60.72L207.7 55.65A215.03 215.03 0 0 1 186.22 107.52Z" fill="#00ffff" stroke="#00ffff" stroke-width="0.6"/>
<path d="M226.61 60.72A234.6 234.6 0 0 0 234.6 0L215.03 0A215.03 215.03 0 0 1 207.7 55.65Z" fill="#008cff" stroke="#008cff" stroke-width="0.6"/>
<clipPath id="clip1414_2_9"><path d="M-96.7 -96.7A136.75 136.75 0 0 0 -118.43 -68.37L-101.48 -58.59A117.18 117.18 0 0 1 -82.86 -82.86Z"/></clipPath>
<rect x="-134.4" y="-107" width="38.1" height="39" fill="#00e0ff" clip-path="url(#clip1414_2_9)"/>
<clipPath id="clip1414_7_19"><path d="M60.72 226.61A234.6 234.6 0 0 0 117.3 203.17L107.52 186.22A215.03 215.03 0 0 1 55.65 207.7Z"/></clipPath>
<rect x="107.4" y="173" width="18.2" height="30.7" fill="#ffa100" clip-path="url(#clip1414_7_19)"/>
<g fill="none" stroke="#000">
<circle r="58.47" stroke-width="3.1"/>
<circle r="78.04" stroke-width="3.1"/>
<circle r="97.61" stroke-width="3.1"/>
<circle r="117.18" stroke-width="3.1"/>
<circle r="136.75" stroke-width="3.1"/>
<circle r="156.32" stroke-width="3.1"/>
<circle r="175.89" stroke-width="3.1"/>
<circle r="195.46" stroke-width="3.1"/>
<circle r="215.03" stroke-width="3.1"/>
<path d="M37.57 -10.07L226.61 -60.72M33.69 -19.45L203.17 -117.3M27.51 -27.51L165.89 -165.89M19.45 -33.69L117.3 -203.17M10.07 -37.57L60.72 -226.61M-10.07 -37.57L-60.72 -226.61M-19.45 -33.69L-117.3 -203.17M-27.51 -27.51L-165.89 -165.89M-33.69 -19.45L-203.17 -117.3M-37.57 -10.07L-226.61 -60.72M-37.57 10.07L-226.61 60.72M-33.69 19.45L-203.17 117.3M-27.51 27.51L-165.89 165.89M-19.45 33.69L-117.3 203.17M-10.07 37.57L-60.72 226.61M10.07 37.57L60.72 226.61M19.45 33.69L117.3 203.17M27.51 27.51L165.89 165.89M33.69 19.45L203.17 117.3M37.57 10.07L226.61 60.72" stroke-width="3.1"/>
<path d="M-234.6 0H-38.9M38.9 0H234.6M0 -234.6V-38.9M0 38.9V234.6" stroke-width="5"/>
<circle r="234.6" stroke-width="5"/>
</g>
<circle r="38.9" fill="#fff" stroke="#000" stroke-width="4.8"/>
<path d="M-1 -38.9H0A38.9 38.9 0 0 1 0 38.9H-1Z" fill="#000"/>
</g>
<text transform="translate(1416.3 106) scale(1 1.055)" font-size="32" font-weight="bold" fill="#262626" text-anchor="middle">06</text>
<text transform="translate(1416.55 610.5) scale(1 1.055)" font-size="32" font-weight="bold" fill="#262626" text-anchor="middle">18</text>
<text transform="translate(1671.2 359.8) scale(1 1.055)" font-size="32" font-weight="bold" fill="#262626" text-anchor="middle">00</text>
<text transform="translate(1156.75 357.9) scale(1 1.055)" font-size="32" font-weight="bold" fill="#262626" text-anchor="middle">12</text>
<text x="1195.6" y="126.7" font-size="40" font-weight="bold" fill="#262626" text-anchor="middle">(c)</text>
<text transform="translate(1541 146) scale(1 1.02)" font-size="32" font-weight="bold" fill="#ff0000" text-anchor="start">L=6</text>
<text transform="translate(1461.6 285.2) scale(1 1.02)" font-size="32" font-weight="bold" fill="#ff0000" text-anchor="start">L=2</text>
<!-- colorbar -->
<rect x="1709.5" y="111.5" width="18.25" height="470.8" fill="#870000"/>
<rect x="1709.5" y="118.86" width="18.25" height="463.44" fill="#970000"/>
<rect x="1709.5" y="126.21" width="18.25" height="456.09" fill="#a70000"/>
<rect x="1709.5" y="133.57" width="18.25" height="448.73" fill="#b70000"/>
<rect x="1709.5" y="140.93" width="18.25" height="441.37" fill="#c70000"/>
<rect x="1709.5" y="148.28" width="18.25" height="434.02" fill="#d70000"/>
<rect x="1709.5" y="155.64" width="18.25" height="426.66" fill="#e70000"/>
<rect x="1709.5" y="162.99" width="18.25" height="419.31" fill="#f70000"/>
<rect x="1709.5" y="170.35" width="18.25" height="411.95" fill="#ff0800"/>
<rect x="1709.5" y="177.71" width="18.25" height="404.59" fill="#ff1800"/>
<rect x="1709.5" y="185.06" width="18.25" height="397.24" fill="#ff2800"/>
<rect x="1709.5" y="192.42" width="18.25" height="389.88" fill="#ff3800"/>
<rect x="1709.5" y="199.77" width="18.25" height="382.52" fill="#ff4800"/>
<rect x="1709.5" y="207.13" width="18.25" height="375.17" fill="#ff5800"/>
<rect x="1709.5" y="214.49" width="18.25" height="367.81" fill="#ff6800"/>
<rect x="1709.5" y="221.84" width="18.25" height="360.46" fill="#ff7800"/>
<rect x="1709.5" y="229.2" width="18.25" height="353.1" fill="#ff8700"/>
<rect x="1709.5" y="236.56" width="18.25" height="345.74" fill="#ff9700"/>
<rect x="1709.5" y="243.91" width="18.25" height="338.39" fill="#ffa700"/>
<rect x="1709.5" y="251.27" width="18.25" height="331.03" fill="#ffb700"/>
<rect x="1709.5" y="258.62" width="18.25" height="323.67" fill="#ffc700"/>
<rect x="1709.5" y="265.98" width="18.25" height="316.32" fill="#ffd700"/>
<rect x="1709.5" y="273.34" width="18.25" height="308.96" fill="#ffe700"/>
<rect x="1709.5" y="280.69" width="18.25" height="301.61" fill="#fff700"/>
<rect x="1709.5" y="288.05" width="18.25" height="294.25" fill="#f7ff08"/>
<rect x="1709.5" y="295.41" width="18.25" height="286.89" fill="#e7ff18"/>
<rect x="1709.5" y="302.76" width="18.25" height="279.54" fill="#d7ff28"/>
<rect x="1709.5" y="310.12" width="18.25" height="272.18" fill="#c7ff38"/>
<rect x="1709.5" y="317.47" width="18.25" height="264.82" fill="#b7ff48"/>
<rect x="1709.5" y="324.83" width="18.25" height="257.47" fill="#a7ff58"/>
<rect x="1709.5" y="332.19" width="18.25" height="250.11" fill="#97ff68"/>
<rect x="1709.5" y="339.54" width="18.25" height="242.76" fill="#87ff78"/>
<rect x="1709.5" y="346.9" width="18.25" height="235.4" fill="#78ff87"/>
<rect x="1709.5" y="354.26" width="18.25" height="228.04" fill="#68ff97"/>
<rect x="1709.5" y="361.61" width="18.25" height="220.69" fill="#58ffa7"/>
<rect x="1709.5" y="368.97" width="18.25" height="213.33" fill="#48ffb7"/>
<rect x="1709.5" y="376.32" width="18.25" height="205.97" fill="#38ffc7"/>
<rect x="1709.5" y="383.68" width="18.25" height="198.62" fill="#28ffd7"/>
<rect x="1709.5" y="391.04" width="18.25" height="191.26" fill="#18ffe7"/>
<rect x="1709.5" y="398.39" width="18.25" height="183.91" fill="#08fff7"/>
<rect x="1709.5" y="405.75" width="18.25" height="176.55" fill="#00f7ff"/>
<rect x="1709.5" y="413.11" width="18.25" height="169.19" fill="#00e7ff"/>
<rect x="1709.5" y="420.46" width="18.25" height="161.84" fill="#00d7ff"/>
<rect x="1709.5" y="427.82" width="18.25" height="154.48" fill="#00c7ff"/>
<rect x="1709.5" y="435.17" width="18.25" height="147.12" fill="#00b7ff"/>
<rect x="1709.5" y="442.53" width="18.25" height="139.77" fill="#00a7ff"/>
<rect x="1709.5" y="449.89" width="18.25" height="132.41" fill="#0097ff"/>
<rect x="1709.5" y="457.24" width="18.25" height="125.06" fill="#0087ff"/>
<rect x="1709.5" y="464.6" width="18.25" height="117.7" fill="#0078ff"/>
<rect x="1709.5" y="471.96" width="18.25" height="110.34" fill="#0068ff"/>
<rect x="1709.5" y="479.31" width="18.25" height="102.99" fill="#0058ff"/>
<rect x="1709.5" y="486.67" width="18.25" height="95.63" fill="#0048ff"/>
<rect x="1709.5" y="494.02" width="18.25" height="88.27" fill="#0038ff"/>
<rect x="1709.5" y="501.38" width="18.25" height="80.92" fill="#0028ff"/>
<rect x="1709.5" y="508.74" width="18.25" height="73.56" fill="#0018ff"/>
<rect x="1709.5" y="516.09" width="18.25" height="66.21" fill="#0008ff"/>
<rect x="1709.5" y="523.45" width="18.25" height="58.85" fill="#0000f7"/>
<rect x="1709.5" y="530.81" width="18.25" height="51.49" fill="#0000e7"/>
<rect x="1709.5" y="538.16" width="18.25" height="44.14" fill="#0000d7"/>
<rect x="1709.5" y="545.52" width="18.25" height="36.78" fill="#0000c7"/>
<rect x="1709.5" y="552.88" width="18.25" height="29.42" fill="#0000b7"/>
<rect x="1709.5" y="560.23" width="18.25" height="22.07" fill="#0000a7"/>
<rect x="1709.5" y="567.59" width="18.25" height="14.71" fill="#000097"/>
<rect x="1709.5" y="574.94" width="18.25" height="7.36" fill="#000087"/>
<rect x="1709.5" y="111.5" width="18.25" height="470.8" fill="none" stroke="#262626" stroke-width="2.1"/>
<path d="M1727.75 503.83h-4.2M1727.75 425.37h-4.2M1727.75 346.9h-4.2M1727.75 268.43h-4.2M1727.75 189.97h-4.2" stroke="#262626" stroke-width="1.6" fill="none"/>
<text transform="translate(1753.75 590) scale(1 1.04)" font-size="32" font-weight="normal" fill="#262626" text-anchor="middle" stroke="#262626" stroke-width="0.7" stroke-linejoin="round">0</text>
<text transform="translate(1753.75 511.8) scale(1 1.04)" font-size="32" font-weight="normal" fill="#262626" text-anchor="middle" stroke="#262626" stroke-width="0.7" stroke-linejoin="round">0.2</text>
<text transform="translate(1753.75 433.6) scale(1 1.04)" font-size="32" font-weight="normal" fill="#262626" text-anchor="middle" stroke="#262626" stroke-width="0.7" stroke-linejoin="round">0.4</text>
<text transform="translate(1753.75 355.4) scale(1 1.04)" font-size="32" font-weight="normal" fill="#262626" text-anchor="middle" stroke="#262626" stroke-width="0.7" stroke-linejoin="round">0.6</text>
<text transform="translate(1753.75 277.2) scale(1 1.04)" font-size="32" font-weight="normal" fill="#262626" text-anchor="middle" stroke="#262626" stroke-width="0.7" stroke-linejoin="round">0.8</text>
<text transform="translate(1753.75 199) scale(1 1.04)" font-size="32" font-weight="normal" fill="#262626" text-anchor="middle" stroke="#262626" stroke-width="0.7" stroke-linejoin="round">1</text>
<text transform="translate(1753.75 120.8) scale(1 1.04)" font-size="32" font-weight="normal" fill="#262626" text-anchor="middle" stroke="#262626" stroke-width="0.7" stroke-linejoin="round">1.2</text>
<text transform="translate(1820 344.9) rotate(-90)" font-size="48.3" font-weight="bold" fill="#000" text-anchor="middle">Variance</text>
<!-- bar chart (d) -->
<g fill="none" stroke="#262626" stroke-width="2.1">
<path d="M92 701.7H573.1M92 1056.9H573.1M106.3 701.7V1056.9M558.1 701.7V1056.9"/>
<path d="M149.29 701.7v-7.8M148.49 1056.9v7.8M180.47 701.7v-7.8M179.67 1056.9v7.8M204.66 701.7v-7.8M203.86 1056.9v7.8M224.43 701.7v-7.8M223.63 1056.9v7.8M241.14 701.7v-7.8M240.34 1056.9v7.8M255.61 701.7v-7.8M254.81 1056.9v7.8M268.38 701.7v-7.8M267.58 1056.9v7.8M279.8 701.7v-14.2M279 1056.9v14.5M354.94 701.7v-7.8M354.14 1056.9v7.8M398.89 701.7v-7.8M398.09 1056.9v7.8M430.07 701.7v-7.8M429.27 1056.9v7.8M454.26 701.7v-7.8M453.46 1056.9v7.8M474.03 701.7v-7.8M473.23 1056.9v7.8M490.74 701.7v-7.8M489.94 1056.9v7.8M505.21 701.7v-7.8M504.41 1056.9v7.8M517.98 701.7v-7.8M517.18 1056.9v7.8M529.4 701.7v-14.2M528.6 1056.9v14.5M106.3 1006.16h5M558.1 1006.16h-6.2M106.3 955.41h5M558.1 955.41h-6.2M106.3 904.67h5M558.1 904.67h-6.2M106.3 853.93h5M558.1 853.93h-6.2M106.3 803.19h5M558.1 803.19h-6.2M106.3 752.44h5M558.1 752.44h-6.2"/>
</g>
<g fill="#ed1c24" stroke="#000" stroke-width="2">
<rect x="112.1" y="725.3" width="11.89" height="331.6"/>
<rect x="123.99" y="753.9" width="11.89" height="303"/>
<rect x="135.89" y="785.2" width="11.89" height="271.7"/>
<rect x="147.78" y="810.2" width="11.89" height="246.7"/>
<rect x="159.68" y="861.5" width="11.89" height="195.4"/>
<rect x="171.57" y="906.5" width="11.89" height="150.4"/>
<rect x="183.47" y="934.5" width="11.89" height="122.4"/>
<rect x="195.37" y="951.7" width="11.89" height="105.2"/>
<rect x="207.26" y="971.6" width="11.89" height="85.3"/>
<rect x="219.15" y="984.1" width="11.89" height="72.8"/>
<rect x="231.05" y="996.7" width="11.89" height="60.2"/>
<rect x="242.94" y="1005.8" width="11.89" height="51.1"/>
<rect x="254.84" y="1012.9" width="11.89" height="44"/>
<rect x="266.74" y="1019.2" width="11.89" height="37.7"/>
<rect x="278.63" y="1024.2" width="11.89" height="32.7"/>
<rect x="290.52" y="1029.4" width="11.89" height="27.5"/>
<rect x="302.42" y="1033.2" width="11.89" height="23.7"/>
<rect x="314.31" y="1036.3" width="11.89" height="20.6"/>
<rect x="326.21" y="1038.3" width="11.89" height="18.6"/>
<rect x="338.11" y="1040.9" width="11.89" height="16"/>
<rect x="350" y="1041.9" width="11.89" height="15"/>
<rect x="361.89" y="1043.3" width="11.89" height="13.6"/>
<rect x="373.79" y="1043.8" width="11.89" height="13.1"/>
<rect x="385.68" y="1045.2" width="11.89" height="11.7"/>
<rect x="397.58" y="1046" width="11.89" height="10.9"/>
<rect x="409.48" y="1046.5" width="11.89" height="10.4"/>
<rect x="421.37" y="1046.5" width="11.89" height="10.4"/>
<rect x="433.26" y="1046.5" width="11.89" height="10.4"/>
<rect x="445.16" y="1046.5" width="11.89" height="10.4"/>
<rect x="457.05" y="1046.5" width="11.89" height="10.4"/>
<rect x="468.95" y="1046.3" width="11.89" height="10.6"/>
<rect x="480.85" y="1046" width="11.89" height="10.9"/>
<rect x="492.74" y="1045.5" width="11.89" height="11.4"/>
<rect x="504.63" y="1045.2" width="11.89" height="11.7"/>
<rect x="516.53" y="1044.2" width="11.89" height="12.7"/>
<rect x="528.42" y="1043.5" width="11.89" height="13.4"/>
<rect x="540.32" y="1043.8" width="11.89" height="13.1"/>
</g>
<text transform="translate(252.8 1104.5) scale(1 1.055)" font-size="32" font-weight="bold" fill="#262626">10<tspan font-size="22.5" dx="1.2" dy="-13.2">2</tspan></text>
<text transform="translate(504.5 1104.5) scale(1 1.055)" font-size="32" font-weight="bold" fill="#262626">10<tspan font-size="22.5" dx="1.2" dy="-13.2">3</tspan></text>
<text x="325.6" y="1145.8" font-size="39.7" font-weight="bold" fill="#000" text-anchor="middle">Frequency [Hz]</text>
<text x="517.2" y="748.5" font-size="40" font-weight="bold" fill="#262626" text-anchor="middle">(d)</text>
<!-- bar chart (e) -->
<g fill="none" stroke="#262626" stroke-width="2.1">
<path d="M636.1 701.7H1117.2M636.1 1056.9H1117.2M650.4 701.7V1056.9M1102.2 701.7V1056.9"/>
<path d="M692.49 701.7v-7.8M692.19 1056.9v7.8M723.65 701.7v-7.8M723.35 1056.9v7.8M747.82 701.7v-7.8M747.52 1056.9v7.8M767.57 701.7v-7.8M767.27 1056.9v7.8M784.27 701.7v-7.8M783.97 1056.9v7.8M798.73 701.7v-7.8M798.43 1056.9v7.8M811.49 701.7v-7.8M811.19 1056.9v7.8M822.9 701.7v-14.2M822.6 1056.9v14.5M897.98 701.7v-7.8M897.68 1056.9v7.8M941.89 701.7v-7.8M941.59 1056.9v7.8M973.05 701.7v-7.8M972.75 1056.9v7.8M997.22 701.7v-7.8M996.92 1056.9v7.8M1016.97 701.7v-7.8M1016.67 1056.9v7.8M1033.67 701.7v-7.8M1033.37 1056.9v7.8M1048.13 701.7v-7.8M1047.83 1056.9v7.8M1060.89 701.7v-7.8M1060.59 1056.9v7.8M1072.3 701.7v-14.2M1072 1056.9v14.5M650.4 1006.16h5M1102.2 1006.16h-6.2M650.4 955.41h5M1102.2 955.41h-6.2M650.4 904.67h5M1102.2 904.67h-6.2M650.4 853.93h5M1102.2 853.93h-6.2M650.4 803.19h5M1102.2 803.19h-6.2M650.4 752.44h5M1102.2 752.44h-6.2"/>
</g>
<g fill="#ed1c24" stroke="#000" stroke-width="2">
<rect x="656.2" y="759.1" width="11.88" height="297.8"/>
<rect x="668.08" y="781.1" width="11.88" height="275.8"/>
<rect x="679.97" y="810.2" width="11.88" height="246.7"/>
<rect x="691.85" y="829.5" width="11.88" height="227.4"/>
<rect x="703.74" y="875.6" width="11.88" height="181.3"/>
<rect x="715.62" y="915.1" width="11.88" height="141.8"/>
<rect x="727.51" y="938.2" width="11.88" height="118.7"/>
<rect x="739.39" y="952.3" width="11.88" height="104.6"/>
<rect x="751.28" y="969.2" width="11.88" height="87.7"/>
<rect x="763.16" y="978.6" width="11.88" height="78.3"/>
<rect x="775.05" y="990.2" width="11.88" height="66.7"/>
<rect x="786.93" y="998.6" width="11.88" height="58.3"/>
<rect x="798.82" y="1004.2" width="11.88" height="52.7"/>
<rect x="810.7" y="1011" width="11.88" height="45.9"/>
<rect x="822.59" y="1016" width="11.88" height="40.9"/>
<rect x="834.47" y="1020.6" width="11.88" height="36.3"/>
<rect x="846.36" y="1024.6" width="11.88" height="32.3"/>
<rect x="858.24" y="1028" width="11.88" height="28.9"/>
<rect x="870.13" y="1030.2" width="11.88" height="26.7"/>
<rect x="882.01" y="1031.9" width="11.88" height="25"/>
<rect x="893.9" y="1033.5" width="11.88" height="23.4"/>
<rect x="905.78" y="1034.8" width="11.88" height="22.1"/>
<rect x="917.67" y="1035.5" width="11.88" height="21.4"/>
<rect x="929.55" y="1036.2" width="11.88" height="20.7"/>
<rect x="941.44" y="1037.3" width="11.88" height="19.6"/>
<rect x="953.32" y="1037.6" width="11.88" height="19.3"/>
<rect x="965.21" y="1037.6" width="11.88" height="19.3"/>
<rect x="977.09" y="1037.6" width="11.88" height="19.3"/>
<rect x="988.98" y="1037.6" width="11.88" height="19.3"/>
<rect x="1000.87" y="1037.6" width="11.88" height="19.3"/>
<rect x="1012.75" y="1037.6" width="11.88" height="19.3"/>
<rect x="1024.63" y="1037.5" width="11.88" height="19.4"/>
<rect x="1036.52" y="1037" width="11.88" height="19.9"/>
<rect x="1048.4" y="1036.3" width="11.88" height="20.6"/>
<rect x="1060.29" y="1035.2" width="11.88" height="21.7"/>
<rect x="1072.17" y="1034" width="11.88" height="22.9"/>
<rect x="1084.06" y="1032" width="11.88" height="24.9"/>
</g>
<text transform="translate(796.4 1104.5) scale(1 1.055)" font-size="32" font-weight="bold" fill="#262626">10<tspan font-size="22.5" dx="1.2" dy="-13.2">2</tspan></text>
<text transform="translate(1048.6 1104.5) scale(1 1.055)" font-size="32" font-weight="bold" fill="#262626">10<tspan font-size="22.5" dx="1.2" dy="-13.2">3</tspan></text>
<text x="869.25" y="1145.8" font-size="39.7" font-weight="bold" fill="#000" text-anchor="middle">Frequency [Hz]</text>
<text x="1065.65" y="748.5" font-size="40" font-weight="bold" fill="#262626" text-anchor="middle">(e)</text>
<!-- bar chart (f) -->
<g fill="none" stroke="#262626" stroke-width="2.1">
<path d="M1178.7 701.7H1659.8M1178.7 1056.9H1659.8M1193 701.7V1056.9M1644.8 701.7V1056.9"/>
<path d="M1236.59 701.7v-7.8M1234.67 1056.9v7.8M1267.77 701.7v-7.8M1265.82 1056.9v7.8M1291.96 701.7v-7.8M1289.99 1056.9v7.8M1311.73 701.7v-7.8M1309.73 1056.9v7.8M1328.44 701.7v-7.8M1326.43 1056.9v7.8M1342.91 701.7v-7.8M1340.89 1056.9v7.8M1355.68 701.7v-7.8M1353.64 1056.9v7.8M1367.1 701.7v-14.2M1365.05 1056.9v14.5M1442.24 701.7v-7.8M1440.11 1056.9v7.8M1486.19 701.7v-7.8M1484.02 1056.9v7.8M1517.37 701.7v-7.8M1515.17 1056.9v7.8M1541.56 701.7v-7.8M1539.34 1056.9v7.8M1561.33 701.7v-7.8M1559.08 1056.9v7.8M1578.04 701.7v-7.8M1575.78 1056.9v7.8M1592.51 701.7v-7.8M1590.24 1056.9v7.8M1605.28 701.7v-7.8M1602.99 1056.9v7.8M1616.7 701.7v-14.2M1614.4 1056.9v14.5M1193 1006.16h5M1644.8 1006.16h-6.2M1193 955.41h5M1644.8 955.41h-6.2M1193 904.67h5M1644.8 904.67h-6.2M1193 853.93h5M1644.8 853.93h-6.2M1193 803.19h5M1644.8 803.19h-6.2M1193 752.44h5M1644.8 752.44h-6.2"/>
</g>
<g fill="#ed1c24" stroke="#000" stroke-width="2">
<rect x="1198.8" y="779.9" width="11.89" height="277"/>
<rect x="1210.69" y="796.3" width="11.89" height="260.6"/>
<rect x="1222.58" y="816.3" width="11.89" height="240.6"/>
<rect x="1234.47" y="832.3" width="11.89" height="224.6"/>
<rect x="1246.36" y="868.2" width="11.89" height="188.7"/>
<rect x="1258.25" y="894.2" width="11.89" height="162.7"/>
<rect x="1270.14" y="913.7" width="11.89" height="143.2"/>
<rect x="1282.03" y="924.2" width="11.89" height="132.7"/>
<rect x="1293.92" y="935.4" width="11.89" height="121.5"/>
<rect x="1305.81" y="945.4" width="11.89" height="111.5"/>
<rect x="1317.7" y="956.3" width="11.89" height="100.6"/>
<rect x="1329.59" y="965.1" width="11.89" height="91.8"/>
<rect x="1341.48" y="970.8" width="11.89" height="86.1"/>
<rect x="1353.37" y="974.3" width="11.89" height="82.6"/>
<rect x="1365.26" y="978.3" width="11.89" height="78.6"/>
<rect x="1377.15" y="983.3" width="11.89" height="73.6"/>
<rect x="1389.04" y="986.7" width="11.89" height="70.2"/>
<rect x="1400.93" y="989.8" width="11.89" height="67.1"/>
<rect x="1412.82" y="992.4" width="11.89" height="64.5"/>
<rect x="1424.71" y="995.1" width="11.89" height="61.8"/>
<rect x="1436.6" y="996.7" width="11.89" height="60.2"/>
<rect x="1448.49" y="998.9" width="11.89" height="58"/>
<rect x="1460.38" y="1001.2" width="11.89" height="55.7"/>
<rect x="1472.27" y="1003" width="11.89" height="53.9"/>
<rect x="1484.16" y="1004" width="11.89" height="52.9"/>
<rect x="1496.05" y="1005.6" width="11.89" height="51.3"/>
<rect x="1507.94" y="1006.2" width="11.89" height="50.7"/>
<rect x="1519.83" y="1008" width="11.89" height="48.9"/>
<rect x="1531.72" y="1010.2" width="11.89" height="46.7"/>
<rect x="1543.61" y="1011.6" width="11.89" height="45.3"/>
<rect x="1555.5" y="1012.3" width="11.89" height="44.6"/>
<rect x="1567.39" y="1012.8" width="11.89" height="44.1"/>
<rect x="1579.28" y="1013" width="11.89" height="43.9"/>
<rect x="1591.17" y="1013" width="11.89" height="43.9"/>
<rect x="1603.06" y="1011.9" width="11.89" height="45"/>
<rect x="1614.95" y="1009.8" width="11.89" height="47.1"/>
<rect x="1626.84" y="1008" width="11.89" height="48.9"/>
</g>
<text transform="translate(1345.4 1104.5) scale(1 1.055)" font-size="32" font-weight="bold" fill="#262626">10<tspan font-size="22.5" dx="1.2" dy="-13.2">2</tspan></text>
<text transform="translate(1597.75 1104.5) scale(1 1.055)" font-size="32" font-weight="bold" fill="#262626">10<tspan font-size="22.5" dx="1.2" dy="-13.2">3</tspan></text>
<text x="1418.4" y="1145.8" font-size="39.7" font-weight="bold" fill="#000" text-anchor="middle">Frequency [Hz]</text>
<text x="1610.9" y="748.5" font-size="40" font-weight="bold" fill="#262626" text-anchor="middle">(f)</text>
<text transform="translate(66.9 703.3) scale(1 1.055)" font-size="32" font-weight="bold" fill="#262626" text-anchor="middle">3.5</text>
<text transform="translate(66.9 760.5) scale(1 1.055)" font-size="32" font-weight="bold" fill="#262626" text-anchor="middle">3</text>
<text transform="translate(66.9 811.2) scale(1 1.055)" font-size="32" font-weight="bold" fill="#262626" text-anchor="middle">2.5</text>
<text transform="translate(66.9 861.9) scale(1 1.055)" font-size="32" font-weight="bold" fill="#262626" text-anchor="middle">2</text>
<text transform="translate(66.9 912.6) scale(1 1.055)" font-size="32" font-weight="bold" fill="#262626" text-anchor="middle">1.5</text>
<text transform="translate(66.9 963.2) scale(1 1.055)" font-size="32" font-weight="bold" fill="#262626" text-anchor="middle">1</text>
<text transform="translate(66.9 1013.5) scale(1 1.055)" font-size="32" font-weight="bold" fill="#262626" text-anchor="middle">0.5</text>
<text transform="translate(66.9 1066.4) scale(1 1.055)" font-size="32" font-weight="bold" fill="#262626" text-anchor="middle">0</text>
<text transform="translate(34.7 877.8) rotate(-90)" font-size="48.3" font-weight="bold" fill="#000" text-anchor="middle">Variance</text>
</svg>
</body>
</html>
